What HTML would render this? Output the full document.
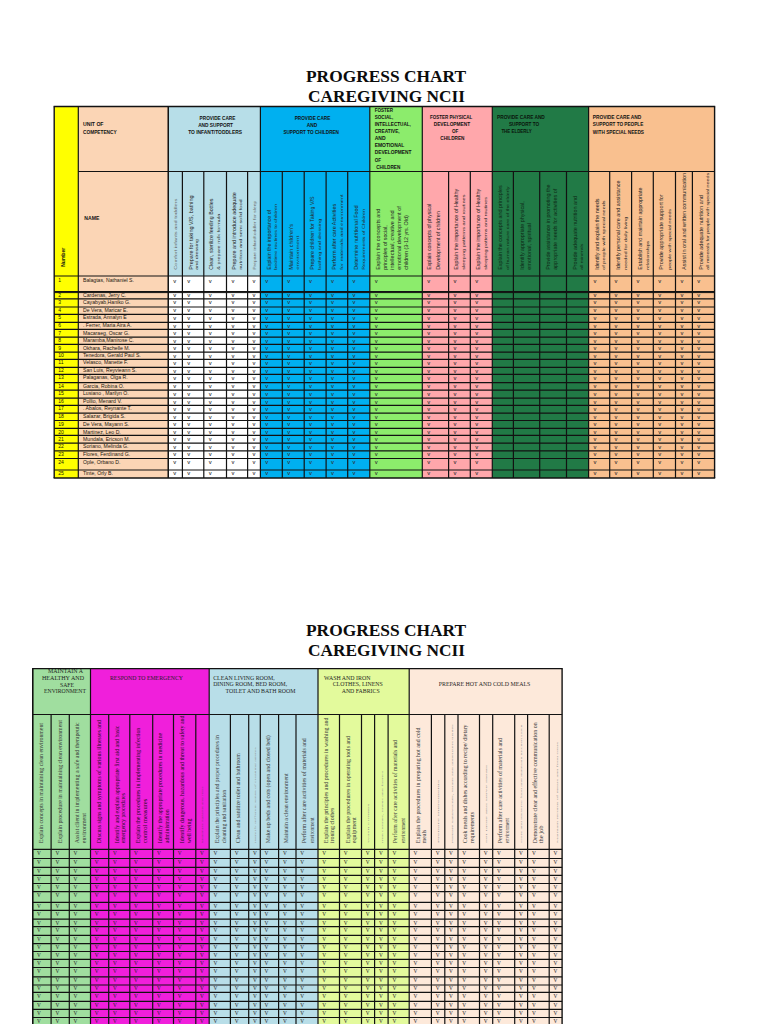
<!DOCTYPE html>
<html><head><meta charset="utf-8"><title>Progress Chart Caregiving NCII</title>
<style>
html,body{margin:0;padding:0;background:#fff;width:768px;height:1024px;overflow:hidden;}
svg{display:block;}
</style></head>
<body>
<svg width="768" height="1024" viewBox="0 0 768 1024">
<text x="386.00" y="81.90" font-family="Liberation Serif" font-size="17.4" font-weight="bold" fill="#0c0c0c" text-anchor="middle" textLength="160.0" lengthAdjust="spacingAndGlyphs">PROGRESS CHART</text>
<text x="386.50" y="101.70" font-family="Liberation Serif" font-size="17.4" font-weight="bold" fill="#0c0c0c" text-anchor="middle" textLength="157.0" lengthAdjust="spacingAndGlyphs">CAREGIVING NCII</text>
<rect x="54.20" y="106.50" width="24.10" height="371.50" fill="#FFFF00"/>
<rect x="78.30" y="106.50" width="90.00" height="371.50" fill="#FBD5B5"/>
<rect x="168.30" y="106.50" width="92.10" height="169.50" fill="#B7DEE8"/>
<rect x="168.30" y="276.00" width="92.10" height="202.00" fill="#FFFFFF"/>
<rect x="260.40" y="106.50" width="109.40" height="169.50" fill="#00B0F0"/>
<rect x="260.40" y="276.00" width="109.40" height="202.00" fill="#00B0F0"/>
<rect x="369.80" y="106.50" width="52.50" height="169.50" fill="#8CEC6C"/>
<rect x="369.80" y="276.00" width="52.50" height="202.00" fill="#8CEC6C"/>
<rect x="422.30" y="106.50" width="70.00" height="169.50" fill="#FFA7AB"/>
<rect x="422.30" y="276.00" width="70.00" height="202.00" fill="#FFA7AB"/>
<rect x="492.30" y="106.50" width="96.30" height="169.50" fill="#217A46"/>
<rect x="492.30" y="276.00" width="96.30" height="202.00" fill="#217A46"/>
<rect x="588.60" y="106.50" width="126.00" height="169.50" fill="#F9C08F"/>
<rect x="588.60" y="276.00" width="126.00" height="202.00" fill="#F9C08F"/>
<text x="83.00" y="126.40" font-family="Liberation Sans" font-size="5.1" font-weight="bold" fill="#121212" text-anchor="start" textLength="20.5" lengthAdjust="spacingAndGlyphs">UNIT OF</text>
<text x="83.00" y="133.50" font-family="Liberation Sans" font-size="5.1" font-weight="bold" fill="#121212" text-anchor="start" textLength="33.7" lengthAdjust="spacingAndGlyphs">COMPETENCY</text>
<text x="199.60" y="119.50" font-family="Liberation Sans" font-size="5.1" font-weight="bold" fill="#121212" text-anchor="start" textLength="35.8" lengthAdjust="spacingAndGlyphs">PROVIDE CARE</text>
<text x="198.15" y="126.60" font-family="Liberation Sans" font-size="5.1" font-weight="bold" fill="#121212" text-anchor="start" textLength="34.9" lengthAdjust="spacingAndGlyphs">AND SUPPORT</text>
<text x="188.20" y="133.80" font-family="Liberation Sans" font-size="5.1" font-weight="bold" fill="#121212" text-anchor="start" textLength="53.8" lengthAdjust="spacingAndGlyphs">TO INFANT/TODDLERS</text>
<text x="294.75" y="119.50" font-family="Liberation Sans" font-size="5.1" font-weight="bold" fill="#121212" text-anchor="start" textLength="35.5" lengthAdjust="spacingAndGlyphs">PROVIDE CARE</text>
<text x="306.75" y="126.60" font-family="Liberation Sans" font-size="5.1" font-weight="bold" fill="#121212" text-anchor="start" textLength="10.5" lengthAdjust="spacingAndGlyphs">AND</text>
<text x="283.40" y="133.80" font-family="Liberation Sans" font-size="5.1" font-weight="bold" fill="#121212" text-anchor="start" textLength="55.6" lengthAdjust="spacingAndGlyphs">SUPPORT TO CHILDREN</text>
<text x="374.70" y="112.30" font-family="Liberation Sans" font-size="5.1" font-weight="bold" fill="#121212" text-anchor="start" textLength="18.4" lengthAdjust="spacingAndGlyphs">FOSTER</text>
<text x="374.70" y="119.33" font-family="Liberation Sans" font-size="5.1" font-weight="bold" fill="#121212" text-anchor="start" textLength="18.7" lengthAdjust="spacingAndGlyphs">SOCIAL,</text>
<text x="374.70" y="126.36" font-family="Liberation Sans" font-size="5.1" font-weight="bold" fill="#121212" text-anchor="start" textLength="36.2" lengthAdjust="spacingAndGlyphs">INTELLECTUAL,</text>
<text x="374.70" y="133.39" font-family="Liberation Sans" font-size="5.1" font-weight="bold" fill="#121212" text-anchor="start" textLength="25.0" lengthAdjust="spacingAndGlyphs">CREATIVE,</text>
<text x="374.70" y="140.42" font-family="Liberation Sans" font-size="5.1" font-weight="bold" fill="#121212" text-anchor="start" textLength="10.9" lengthAdjust="spacingAndGlyphs">AND</text>
<text x="374.70" y="147.45" font-family="Liberation Sans" font-size="5.1" font-weight="bold" fill="#121212" text-anchor="start" textLength="29.7" lengthAdjust="spacingAndGlyphs">EMOTIONAL</text>
<text x="374.70" y="154.48" font-family="Liberation Sans" font-size="5.1" font-weight="bold" fill="#121212" text-anchor="start" textLength="36.7" lengthAdjust="spacingAndGlyphs">DEVELOPMENT</text>
<text x="374.70" y="161.51" font-family="Liberation Sans" font-size="5.1" font-weight="bold" fill="#121212" text-anchor="start" textLength="6.2" lengthAdjust="spacingAndGlyphs">OF</text>
<text x="376.20" y="168.54" font-family="Liberation Sans" font-size="5.1" font-weight="bold" fill="#121212" text-anchor="start" textLength="24.2" lengthAdjust="spacingAndGlyphs">CHILDREN</text>
<text x="430.10" y="119.30" font-family="Liberation Sans" font-size="5.1" font-weight="bold" fill="#121212" text-anchor="start" textLength="42.2" lengthAdjust="spacingAndGlyphs">FOSTER PHYSICAL</text>
<text x="433.75" y="126.30" font-family="Liberation Sans" font-size="5.1" font-weight="bold" fill="#121212" text-anchor="start" textLength="36.3" lengthAdjust="spacingAndGlyphs">DEVELOPMENT</text>
<text x="451.95" y="133.30" font-family="Liberation Sans" font-size="5.1" font-weight="bold" fill="#121212" text-anchor="start" textLength="6.3" lengthAdjust="spacingAndGlyphs">OF</text>
<text x="440.30" y="140.40" font-family="Liberation Sans" font-size="5.1" font-weight="bold" fill="#121212" text-anchor="start" textLength="24.2" lengthAdjust="spacingAndGlyphs">CHILDREN</text>
<text x="497.00" y="119.30" font-family="Liberation Sans" font-size="5.1" font-weight="bold" fill="#0a140c" text-anchor="start" textLength="47.8" lengthAdjust="spacingAndGlyphs">PROVIDE CARE AND</text>
<text x="508.90" y="126.30" font-family="Liberation Sans" font-size="5.1" font-weight="bold" fill="#0a140c" text-anchor="start" textLength="30.3" lengthAdjust="spacingAndGlyphs">SUPPORT TO</text>
<text x="501.40" y="133.30" font-family="Liberation Sans" font-size="5.1" font-weight="bold" fill="#0a140c" text-anchor="start" textLength="30.4" lengthAdjust="spacingAndGlyphs">THE ELDERLY</text>
<text x="592.80" y="119.30" font-family="Liberation Sans" font-size="5.1" font-weight="bold" fill="#121212" text-anchor="start" textLength="48.5" lengthAdjust="spacingAndGlyphs">PROVIDE CARE AND</text>
<text x="592.80" y="126.40" font-family="Liberation Sans" font-size="5.1" font-weight="bold" fill="#121212" text-anchor="start" textLength="50.5" lengthAdjust="spacingAndGlyphs">SUPPORT TO PEOPLE</text>
<text x="592.80" y="133.60" font-family="Liberation Sans" font-size="5.1" font-weight="bold" fill="#121212" text-anchor="start" textLength="51.2" lengthAdjust="spacingAndGlyphs">WITH SPECIAL NEEDS</text>
<text x="84.30" y="219.50" font-family="Liberation Sans" font-size="5.1" font-weight="bold" fill="#121212" text-anchor="start" textLength="15.0" lengthAdjust="spacingAndGlyphs">NAME</text>
<text transform="translate(65.00,266.80) rotate(-90)" font-family="Liberation Sans" font-size="5.1" font-weight="bold" fill="#121212" textLength="19.0" lengthAdjust="spacingAndGlyphs">Number</text>
<text transform="translate(177.01,269.80) rotate(-90)" font-family="Liberation Sans" font-size="3.6" fill="#666" textLength="71.1" lengthAdjust="spacingAndGlyphs">Comfort infants and toddlers</text>
<text transform="translate(192.51,269.80) rotate(-90)" font-family="Liberation Sans" font-size="5.4" fill="#262626" textLength="74.4" lengthAdjust="spacingAndGlyphs">Prepare for taking V/S, bathing</text>
<text transform="translate(198.13,269.80) rotate(-90)" font-family="Liberation Sans" font-size="4.4" fill="#262626" textLength="30.8" lengthAdjust="spacingAndGlyphs">and dressing</text>
<text transform="translate(213.41,269.80) rotate(-90)" font-family="Liberation Sans" font-size="5.4" fill="#262626" textLength="71.1" lengthAdjust="spacingAndGlyphs">Clean, sterilize feeding Bottles</text>
<text transform="translate(220.23,269.80) rotate(-90)" font-family="Liberation Sans" font-size="4.4" fill="#262626" textLength="56.1" lengthAdjust="spacingAndGlyphs">&amp; prepare milk formula</text>
<text transform="translate(235.51,269.80) rotate(-90)" font-family="Liberation Sans" font-size="5.4" fill="#262626" textLength="77.6" lengthAdjust="spacingAndGlyphs">Prepare and introduce adequate</text>
<text transform="translate(242.43,269.80) rotate(-90)" font-family="Liberation Sans" font-size="4.4" fill="#262626" textLength="70.5" lengthAdjust="spacingAndGlyphs">nutrition and semi solid food</text>
<text transform="translate(255.81,269.80) rotate(-90)" font-family="Liberation Sans" font-size="3.6" fill="#666" textLength="69.2" lengthAdjust="spacingAndGlyphs">Prepare infant/toddler for sleep</text>
<text transform="translate(270.61,269.80) rotate(-90)" font-family="Liberation Sans" font-size="5.4" fill="#262626" textLength="59.9" lengthAdjust="spacingAndGlyphs">Explain the importance of</text>
<text transform="translate(277.03,269.80) rotate(-90)" font-family="Liberation Sans" font-size="4.4" fill="#262626" textLength="65.9" lengthAdjust="spacingAndGlyphs">bedtime routines to children</text>
<text transform="translate(292.91,269.80) rotate(-90)" font-family="Liberation Sans" font-size="5.4" fill="#262626" textLength="45.8" lengthAdjust="spacingAndGlyphs">Maintain children&#x27;s</text>
<text transform="translate(299.23,269.80) rotate(-90)" font-family="Liberation Sans" font-size="4.4" fill="#262626" textLength="34.0" lengthAdjust="spacingAndGlyphs">environment</text>
<text transform="translate(314.41,269.80) rotate(-90)" font-family="Liberation Sans" font-size="5.4" fill="#262626" textLength="73.3" lengthAdjust="spacingAndGlyphs">Prepare children for Taking V/S</text>
<text transform="translate(320.83,269.80) rotate(-90)" font-family="Liberation Sans" font-size="4.4" fill="#262626" textLength="51.0" lengthAdjust="spacingAndGlyphs">bathing and dressing</text>
<text transform="translate(335.91,269.80) rotate(-90)" font-family="Liberation Sans" font-size="5.4" fill="#262626" textLength="65.9" lengthAdjust="spacingAndGlyphs">Perform after care Activities</text>
<text transform="translate(343.13,269.80) rotate(-90)" font-family="Liberation Sans" font-size="4.4" fill="#262626" textLength="75.5" lengthAdjust="spacingAndGlyphs">for materials and environment</text>
<text transform="translate(357.51,269.80) rotate(-90)" font-family="Liberation Sans" font-size="5.4" fill="#262626" textLength="64.4" lengthAdjust="spacingAndGlyphs">Determine nutritional Food</text>
<text transform="translate(364.63,269.80) rotate(-90)" font-family="Liberation Sans" font-size="4.4" fill="#262626" textLength="60.7" lengthAdjust="spacingAndGlyphs">Requirements of Children</text>
<text transform="translate(379.81,269.80) rotate(-90)" font-family="Liberation Sans" font-size="5.4" fill="#262626" textLength="61.1" lengthAdjust="spacingAndGlyphs">Explain the concepts  and</text>
<text transform="translate(387.01,269.80) rotate(-90)" font-family="Liberation Sans" font-size="5.4" fill="#262626" textLength="44.5" lengthAdjust="spacingAndGlyphs">principles of social,</text>
<text transform="translate(393.71,269.80) rotate(-90)" font-family="Liberation Sans" font-size="5.4" fill="#262626" textLength="59.5" lengthAdjust="spacingAndGlyphs">intellectual, creative and</text>
<text transform="translate(401.21,269.80) rotate(-90)" font-family="Liberation Sans" font-size="5.4" fill="#262626" textLength="63.6" lengthAdjust="spacingAndGlyphs">emotional development of</text>
<text transform="translate(408.21,269.80) rotate(-90)" font-family="Liberation Sans" font-size="5.4" fill="#262626" textLength="54.5" lengthAdjust="spacingAndGlyphs">children (3-12 yrs. Old)</text>
<text transform="translate(431.21,269.80) rotate(-90)" font-family="Liberation Sans" font-size="5.4" fill="#262626" textLength="66.1" lengthAdjust="spacingAndGlyphs">Explain concepts of physical</text>
<text transform="translate(439.51,269.80) rotate(-90)" font-family="Liberation Sans" font-size="5.4" fill="#262626" textLength="58.6" lengthAdjust="spacingAndGlyphs">Development of children</text>
<text transform="translate(457.81,269.80) rotate(-90)" font-family="Liberation Sans" font-size="5.4" fill="#262626" textLength="81.1" lengthAdjust="spacingAndGlyphs">Explain the importance of  Healthy</text>
<text transform="translate(465.03,269.80) rotate(-90)" font-family="Liberation Sans" font-size="4.4" fill="#262626" textLength="75.3" lengthAdjust="spacingAndGlyphs">sleeping patterns and routines</text>
<text transform="translate(479.51,269.80) rotate(-90)" font-family="Liberation Sans" font-size="5.4" fill="#262626" textLength="81.1" lengthAdjust="spacingAndGlyphs">Explain the importance of  Healthy</text>
<text transform="translate(486.73,269.80) rotate(-90)" font-family="Liberation Sans" font-size="4.4" fill="#262626" textLength="72.8" lengthAdjust="spacingAndGlyphs">sleeping patterns and routines</text>
<text transform="translate(502.11,269.80) rotate(-90)" font-family="Liberation Sans" font-size="5.4" fill="#0e2a17" textLength="84.5" lengthAdjust="spacingAndGlyphs">Explain the concepts and  principles</text>
<text transform="translate(508.53,269.80) rotate(-90)" font-family="Liberation Sans" font-size="4.4" fill="#0e2a17" textLength="83.2" lengthAdjust="spacingAndGlyphs">of human nature care of the elderly</text>
<text transform="translate(524.01,269.80) rotate(-90)" font-family="Liberation Sans" font-size="5.4" fill="#0e2a17" textLength="68.6" lengthAdjust="spacingAndGlyphs">Identify appropriate physical,</text>
<text transform="translate(531.31,269.80) rotate(-90)" font-family="Liberation Sans" font-size="5.4" fill="#0e2a17" textLength="46.7" lengthAdjust="spacingAndGlyphs">emotional,  spiritual</text>
<text transform="translate(549.91,269.80) rotate(-90)" font-family="Liberation Sans" font-size="5.4" fill="#0e2a17" textLength="85.2" lengthAdjust="spacingAndGlyphs">Provide assistance in promoting the</text>
<text transform="translate(557.21,269.80) rotate(-90)" font-family="Liberation Sans" font-size="5.4" fill="#0e2a17" textLength="81.2" lengthAdjust="spacingAndGlyphs">appropriate needs for activities of</text>
<text transform="translate(576.51,269.80) rotate(-90)" font-family="Liberation Sans" font-size="5.4" fill="#0e2a17" textLength="73.9" lengthAdjust="spacingAndGlyphs">Provide adequate  nutrition and</text>
<text transform="translate(582.83,269.80) rotate(-90)" font-family="Liberation Sans" font-size="4.4" fill="#0e2a17" textLength="26.1" lengthAdjust="spacingAndGlyphs">all minerals</text>
<text transform="translate(598.71,269.80) rotate(-90)" font-family="Liberation Sans" font-size="5.4" fill="#262626" textLength="71.2" lengthAdjust="spacingAndGlyphs">Identify and explain the needs</text>
<text transform="translate(605.23,269.80) rotate(-90)" font-family="Liberation Sans" font-size="4.4" fill="#262626" textLength="69.4" lengthAdjust="spacingAndGlyphs">of people with special needs</text>
<text transform="translate(620.21,269.80) rotate(-90)" font-family="Liberation Sans" font-size="5.4" fill="#262626" textLength="89.2" lengthAdjust="spacingAndGlyphs">Identify personal care and assistance</text>
<text transform="translate(626.73,269.80) rotate(-90)" font-family="Liberation Sans" font-size="4.4" fill="#262626" textLength="53.1" lengthAdjust="spacingAndGlyphs">needed for daily living</text>
<text transform="translate(641.61,269.80) rotate(-90)" font-family="Liberation Sans" font-size="5.4" fill="#262626" textLength="82.3" lengthAdjust="spacingAndGlyphs">Establish and maintain appropriate</text>
<text transform="translate(649.13,269.80) rotate(-90)" font-family="Liberation Sans" font-size="4.4" fill="#262626" textLength="29.0" lengthAdjust="spacingAndGlyphs">relationships</text>
<text transform="translate(663.11,269.80) rotate(-90)" font-family="Liberation Sans" font-size="5.4" fill="#262626" textLength="75.5" lengthAdjust="spacingAndGlyphs">Provide appropriate support for</text>
<text transform="translate(670.63,269.80) rotate(-90)" font-family="Liberation Sans" font-size="4.4" fill="#262626" textLength="60.8" lengthAdjust="spacingAndGlyphs">people with special needs</text>
<text transform="translate(685.51,269.80) rotate(-90)" font-family="Liberation Sans" font-size="5.4" fill="#262626" textLength="96.9" lengthAdjust="spacingAndGlyphs">Assist in oral and written communication</text>
<text transform="translate(702.71,269.80) rotate(-90)" font-family="Liberation Sans" font-size="5.4" fill="#262626" textLength="74.6" lengthAdjust="spacingAndGlyphs">Provide adequate nutrition and</text>
<text transform="translate(709.23,269.80) rotate(-90)" font-family="Liberation Sans" font-size="4.4" fill="#262626" textLength="96.9" lengthAdjust="spacingAndGlyphs">all minerals for people with special needs</text>
<text x="58.30" y="281.80" font-family="Liberation Sans" font-size="5.6" fill="#202000" text-anchor="start" textLength="2.8" lengthAdjust="spacingAndGlyphs">1</text>
<text x="83.00" y="281.80" font-family="Liberation Sans" font-size="5.6" fill="#24180f" text-anchor="start" textLength="51.0" lengthAdjust="spacingAndGlyphs">Balagtas, Nathaniel S.</text>
<g font-family="Liberation Sans" font-size="4.4" font-weight="bold" fill="#303030">
<text x="173.2" y="282.5">V</text>
<text x="187.3" y="282.5">V</text>
<text x="208.7" y="282.5">V</text>
<text x="231.4" y="282.5">V</text>
<text x="252.5" y="282.5">V</text>
<text x="265.3" y="282.5">V</text>
<text x="287.2" y="282.5">V</text>
<text x="309.1" y="282.5">V</text>
<text x="331.0" y="282.5">V</text>
<text x="352.6" y="282.5">V</text>
<text x="374.7" y="282.5">V</text>
<text x="427.2" y="282.5">V</text>
<text x="453.5" y="282.5">V</text>
<text x="475.2" y="282.5">V</text>
<text x="593.5" y="282.5">V</text>
<text x="614.6" y="282.5">V</text>
<text x="636.5" y="282.5">V</text>
<text x="658.2" y="282.5">V</text>
<text x="680.4" y="282.5">V</text>
<text x="697.3" y="282.5">V</text>
</g>
<text x="58.30" y="296.70" font-family="Liberation Sans" font-size="5.6" fill="#202000" text-anchor="start" textLength="2.8" lengthAdjust="spacingAndGlyphs">2</text>
<text x="83.00" y="296.70" font-family="Liberation Sans" font-size="5.6" fill="#24180f" text-anchor="start" textLength="43.2" lengthAdjust="spacingAndGlyphs">Cardenas, Jerry C.</text>
<g font-family="Liberation Sans" font-size="4.4" font-weight="bold" fill="#303030">
<text x="173.2" y="297.0">V</text>
<text x="187.3" y="297.0">V</text>
<text x="208.7" y="297.0">V</text>
<text x="231.4" y="297.0">V</text>
<text x="252.5" y="297.0">V</text>
<text x="265.3" y="297.0">V</text>
<text x="287.2" y="297.0">V</text>
<text x="309.1" y="297.0">V</text>
<text x="331.0" y="297.0">V</text>
<text x="352.6" y="297.0">V</text>
<text x="374.7" y="297.0">V</text>
<text x="427.2" y="297.0">V</text>
<text x="453.5" y="297.0">V</text>
<text x="475.2" y="297.0">V</text>
<text x="593.5" y="297.0">V</text>
<text x="614.6" y="297.0">V</text>
<text x="636.5" y="297.0">V</text>
<text x="658.2" y="297.0">V</text>
<text x="680.4" y="297.0">V</text>
<text x="697.3" y="297.0">V</text>
</g>
<text x="58.30" y="304.00" font-family="Liberation Sans" font-size="5.6" fill="#202000" text-anchor="start" textLength="2.8" lengthAdjust="spacingAndGlyphs">3</text>
<text x="83.00" y="304.00" font-family="Liberation Sans" font-size="5.6" fill="#24180f" text-anchor="start" textLength="47.5" lengthAdjust="spacingAndGlyphs">Cayabyab,Haniko G.</text>
<g font-family="Liberation Sans" font-size="4.4" font-weight="bold" fill="#303030">
<text x="173.2" y="304.3">V</text>
<text x="187.3" y="304.3">V</text>
<text x="208.7" y="304.3">V</text>
<text x="231.4" y="304.3">V</text>
<text x="252.5" y="304.3">V</text>
<text x="265.3" y="304.3">V</text>
<text x="287.2" y="304.3">V</text>
<text x="309.1" y="304.3">V</text>
<text x="331.0" y="304.3">V</text>
<text x="352.6" y="304.3">V</text>
<text x="374.7" y="304.3">V</text>
<text x="427.2" y="304.3">V</text>
<text x="453.5" y="304.3">V</text>
<text x="475.2" y="304.3">V</text>
<text x="593.5" y="304.3">V</text>
<text x="614.6" y="304.3">V</text>
<text x="636.5" y="304.3">V</text>
<text x="658.2" y="304.3">V</text>
<text x="680.4" y="304.3">V</text>
<text x="697.3" y="304.3">V</text>
</g>
<text x="58.30" y="312.10" font-family="Liberation Sans" font-size="5.6" fill="#202000" text-anchor="start" textLength="2.8" lengthAdjust="spacingAndGlyphs">4</text>
<text x="83.00" y="312.10" font-family="Liberation Sans" font-size="5.6" fill="#24180f" text-anchor="start" textLength="44.9" lengthAdjust="spacingAndGlyphs">De Vera, Maricar E.</text>
<g font-family="Liberation Sans" font-size="4.4" font-weight="bold" fill="#303030">
<text x="173.2" y="312.4">V</text>
<text x="187.3" y="312.4">V</text>
<text x="208.7" y="312.4">V</text>
<text x="231.4" y="312.4">V</text>
<text x="252.5" y="312.4">V</text>
<text x="265.3" y="312.4">V</text>
<text x="287.2" y="312.4">V</text>
<text x="309.1" y="312.4">V</text>
<text x="331.0" y="312.4">V</text>
<text x="352.6" y="312.4">V</text>
<text x="374.7" y="312.4">V</text>
<text x="427.2" y="312.4">V</text>
<text x="453.5" y="312.4">V</text>
<text x="475.2" y="312.4">V</text>
<text x="593.5" y="312.4">V</text>
<text x="614.6" y="312.4">V</text>
<text x="636.5" y="312.4">V</text>
<text x="658.2" y="312.4">V</text>
<text x="680.4" y="312.4">V</text>
<text x="697.3" y="312.4">V</text>
</g>
<text x="58.30" y="319.40" font-family="Liberation Sans" font-size="5.6" fill="#202000" text-anchor="start" textLength="2.8" lengthAdjust="spacingAndGlyphs">5</text>
<text x="83.00" y="319.40" font-family="Liberation Sans" font-size="5.6" fill="#24180f" text-anchor="start" textLength="43.8" lengthAdjust="spacingAndGlyphs">Estrada, Annalyn E</text>
<g font-family="Liberation Sans" font-size="4.4" font-weight="bold" fill="#303030">
<text x="173.2" y="319.7">V</text>
<text x="187.3" y="319.7">V</text>
<text x="208.7" y="319.7">V</text>
<text x="231.4" y="319.7">V</text>
<text x="252.5" y="319.7">V</text>
<text x="265.3" y="319.7">V</text>
<text x="287.2" y="319.7">V</text>
<text x="309.1" y="319.7">V</text>
<text x="331.0" y="319.7">V</text>
<text x="352.6" y="319.7">V</text>
<text x="374.7" y="319.7">V</text>
<text x="427.2" y="319.7">V</text>
<text x="453.5" y="319.7">V</text>
<text x="475.2" y="319.7">V</text>
<text x="593.5" y="319.7">V</text>
<text x="614.6" y="319.7">V</text>
<text x="636.5" y="319.7">V</text>
<text x="658.2" y="319.7">V</text>
<text x="680.4" y="319.7">V</text>
<text x="697.3" y="319.7">V</text>
</g>
<text x="58.30" y="327.40" font-family="Liberation Sans" font-size="5.6" fill="#202000" text-anchor="start" textLength="2.8" lengthAdjust="spacingAndGlyphs">6</text>
<text x="83.00" y="327.40" font-family="Liberation Sans" font-size="5.6" fill="#24180f" text-anchor="start" textLength="48.7" lengthAdjust="spacingAndGlyphs">. Ferrer, Maria Aira A.</text>
<g font-family="Liberation Sans" font-size="4.4" font-weight="bold" fill="#303030">
<text x="173.2" y="327.7">V</text>
<text x="187.3" y="327.7">V</text>
<text x="208.7" y="327.7">V</text>
<text x="231.4" y="327.7">V</text>
<text x="252.5" y="327.7">V</text>
<text x="265.3" y="327.7">V</text>
<text x="287.2" y="327.7">V</text>
<text x="309.1" y="327.7">V</text>
<text x="331.0" y="327.7">V</text>
<text x="352.6" y="327.7">V</text>
<text x="374.7" y="327.7">V</text>
<text x="427.2" y="327.7">V</text>
<text x="453.5" y="327.7">V</text>
<text x="475.2" y="327.7">V</text>
<text x="593.5" y="327.7">V</text>
<text x="614.6" y="327.7">V</text>
<text x="636.5" y="327.7">V</text>
<text x="658.2" y="327.7">V</text>
<text x="680.4" y="327.7">V</text>
<text x="697.3" y="327.7">V</text>
</g>
<text x="58.30" y="334.50" font-family="Liberation Sans" font-size="5.6" fill="#202000" text-anchor="start" textLength="2.8" lengthAdjust="spacingAndGlyphs">7</text>
<text x="83.00" y="334.50" font-family="Liberation Sans" font-size="5.6" fill="#24180f" text-anchor="start" textLength="46.4" lengthAdjust="spacingAndGlyphs">Macaraeg, Oscar G.</text>
<g font-family="Liberation Sans" font-size="4.4" font-weight="bold" fill="#303030">
<text x="173.2" y="334.8">V</text>
<text x="187.3" y="334.8">V</text>
<text x="208.7" y="334.8">V</text>
<text x="231.4" y="334.8">V</text>
<text x="252.5" y="334.8">V</text>
<text x="265.3" y="334.8">V</text>
<text x="287.2" y="334.8">V</text>
<text x="309.1" y="334.8">V</text>
<text x="331.0" y="334.8">V</text>
<text x="352.6" y="334.8">V</text>
<text x="374.7" y="334.8">V</text>
<text x="427.2" y="334.8">V</text>
<text x="453.5" y="334.8">V</text>
<text x="475.2" y="334.8">V</text>
<text x="593.5" y="334.8">V</text>
<text x="614.6" y="334.8">V</text>
<text x="636.5" y="334.8">V</text>
<text x="658.2" y="334.8">V</text>
<text x="680.4" y="334.8">V</text>
<text x="697.3" y="334.8">V</text>
</g>
<text x="58.30" y="342.30" font-family="Liberation Sans" font-size="5.6" fill="#202000" text-anchor="start" textLength="2.8" lengthAdjust="spacingAndGlyphs">8</text>
<text x="83.00" y="342.30" font-family="Liberation Sans" font-size="5.6" fill="#24180f" text-anchor="start" textLength="51.0" lengthAdjust="spacingAndGlyphs">Maramba,Manirose C.</text>
<g font-family="Liberation Sans" font-size="4.4" font-weight="bold" fill="#303030">
<text x="173.2" y="342.6">V</text>
<text x="187.3" y="342.6">V</text>
<text x="208.7" y="342.6">V</text>
<text x="231.4" y="342.6">V</text>
<text x="252.5" y="342.6">V</text>
<text x="265.3" y="342.6">V</text>
<text x="287.2" y="342.6">V</text>
<text x="309.1" y="342.6">V</text>
<text x="331.0" y="342.6">V</text>
<text x="352.6" y="342.6">V</text>
<text x="374.7" y="342.6">V</text>
<text x="427.2" y="342.6">V</text>
<text x="453.5" y="342.6">V</text>
<text x="475.2" y="342.6">V</text>
<text x="593.5" y="342.6">V</text>
<text x="614.6" y="342.6">V</text>
<text x="636.5" y="342.6">V</text>
<text x="658.2" y="342.6">V</text>
<text x="680.4" y="342.6">V</text>
<text x="697.3" y="342.6">V</text>
</g>
<text x="58.30" y="349.50" font-family="Liberation Sans" font-size="5.6" fill="#202000" text-anchor="start" textLength="2.8" lengthAdjust="spacingAndGlyphs">9</text>
<text x="83.00" y="349.50" font-family="Liberation Sans" font-size="5.6" fill="#24180f" text-anchor="start" textLength="47.0" lengthAdjust="spacingAndGlyphs">Okhara, Rachelle M.</text>
<g font-family="Liberation Sans" font-size="4.4" font-weight="bold" fill="#303030">
<text x="173.2" y="349.8">V</text>
<text x="187.3" y="349.8">V</text>
<text x="208.7" y="349.8">V</text>
<text x="231.4" y="349.8">V</text>
<text x="252.5" y="349.8">V</text>
<text x="265.3" y="349.8">V</text>
<text x="287.2" y="349.8">V</text>
<text x="309.1" y="349.8">V</text>
<text x="331.0" y="349.8">V</text>
<text x="352.6" y="349.8">V</text>
<text x="374.7" y="349.8">V</text>
<text x="427.2" y="349.8">V</text>
<text x="453.5" y="349.8">V</text>
<text x="475.2" y="349.8">V</text>
<text x="593.5" y="349.8">V</text>
<text x="614.6" y="349.8">V</text>
<text x="636.5" y="349.8">V</text>
<text x="658.2" y="349.8">V</text>
<text x="680.4" y="349.8">V</text>
<text x="697.3" y="349.8">V</text>
</g>
<text x="58.30" y="357.30" font-family="Liberation Sans" font-size="5.6" fill="#202000" text-anchor="start" textLength="5.6" lengthAdjust="spacingAndGlyphs">10</text>
<text x="83.00" y="357.30" font-family="Liberation Sans" font-size="5.6" fill="#24180f" text-anchor="start" textLength="57.8" lengthAdjust="spacingAndGlyphs">Tenedora, Gerald Paul S.</text>
<g font-family="Liberation Sans" font-size="4.4" font-weight="bold" fill="#303030">
<text x="173.2" y="357.6">V</text>
<text x="187.3" y="357.6">V</text>
<text x="208.7" y="357.6">V</text>
<text x="231.4" y="357.6">V</text>
<text x="252.5" y="357.6">V</text>
<text x="265.3" y="357.6">V</text>
<text x="287.2" y="357.6">V</text>
<text x="309.1" y="357.6">V</text>
<text x="331.0" y="357.6">V</text>
<text x="352.6" y="357.6">V</text>
<text x="374.7" y="357.6">V</text>
<text x="427.2" y="357.6">V</text>
<text x="453.5" y="357.6">V</text>
<text x="475.2" y="357.6">V</text>
<text x="593.5" y="357.6">V</text>
<text x="614.6" y="357.6">V</text>
<text x="636.5" y="357.6">V</text>
<text x="658.2" y="357.6">V</text>
<text x="680.4" y="357.6">V</text>
<text x="697.3" y="357.6">V</text>
</g>
<text x="58.30" y="364.40" font-family="Liberation Sans" font-size="5.6" fill="#202000" text-anchor="start" textLength="5.2" lengthAdjust="spacingAndGlyphs">11</text>
<text x="83.00" y="364.40" font-family="Liberation Sans" font-size="5.6" fill="#24180f" text-anchor="start" textLength="45.0" lengthAdjust="spacingAndGlyphs">Velasco, Manette F.</text>
<g font-family="Liberation Sans" font-size="4.4" font-weight="bold" fill="#303030">
<text x="173.2" y="364.7">V</text>
<text x="187.3" y="364.7">V</text>
<text x="208.7" y="364.7">V</text>
<text x="231.4" y="364.7">V</text>
<text x="252.5" y="364.7">V</text>
<text x="265.3" y="364.7">V</text>
<text x="287.2" y="364.7">V</text>
<text x="309.1" y="364.7">V</text>
<text x="331.0" y="364.7">V</text>
<text x="352.6" y="364.7">V</text>
<text x="374.7" y="364.7">V</text>
<text x="427.2" y="364.7">V</text>
<text x="453.5" y="364.7">V</text>
<text x="475.2" y="364.7">V</text>
<text x="593.5" y="364.7">V</text>
<text x="614.6" y="364.7">V</text>
<text x="636.5" y="364.7">V</text>
<text x="658.2" y="364.7">V</text>
<text x="680.4" y="364.7">V</text>
<text x="697.3" y="364.7">V</text>
</g>
<text x="58.30" y="372.40" font-family="Liberation Sans" font-size="5.6" fill="#202000" text-anchor="start" textLength="5.6" lengthAdjust="spacingAndGlyphs">12</text>
<text x="83.00" y="372.40" font-family="Liberation Sans" font-size="5.6" fill="#24180f" text-anchor="start" textLength="53.6" lengthAdjust="spacingAndGlyphs">San Luis, Reyvieann S.</text>
<g font-family="Liberation Sans" font-size="4.4" font-weight="bold" fill="#303030">
<text x="173.2" y="372.7">V</text>
<text x="187.3" y="372.7">V</text>
<text x="208.7" y="372.7">V</text>
<text x="231.4" y="372.7">V</text>
<text x="252.5" y="372.7">V</text>
<text x="265.3" y="372.7">V</text>
<text x="287.2" y="372.7">V</text>
<text x="309.1" y="372.7">V</text>
<text x="331.0" y="372.7">V</text>
<text x="352.6" y="372.7">V</text>
<text x="374.7" y="372.7">V</text>
<text x="427.2" y="372.7">V</text>
<text x="453.5" y="372.7">V</text>
<text x="475.2" y="372.7">V</text>
<text x="593.5" y="372.7">V</text>
<text x="614.6" y="372.7">V</text>
<text x="636.5" y="372.7">V</text>
<text x="658.2" y="372.7">V</text>
<text x="680.4" y="372.7">V</text>
<text x="697.3" y="372.7">V</text>
</g>
<text x="58.30" y="379.40" font-family="Liberation Sans" font-size="5.6" fill="#202000" text-anchor="start" textLength="5.6" lengthAdjust="spacingAndGlyphs">13</text>
<text x="83.00" y="379.40" font-family="Liberation Sans" font-size="5.6" fill="#24180f" text-anchor="start" textLength="44.7" lengthAdjust="spacingAndGlyphs">Palaganas, Olga R.</text>
<g font-family="Liberation Sans" font-size="4.4" font-weight="bold" fill="#303030">
<text x="173.2" y="379.7">V</text>
<text x="187.3" y="379.7">V</text>
<text x="208.7" y="379.7">V</text>
<text x="231.4" y="379.7">V</text>
<text x="252.5" y="379.7">V</text>
<text x="265.3" y="379.7">V</text>
<text x="287.2" y="379.7">V</text>
<text x="309.1" y="379.7">V</text>
<text x="331.0" y="379.7">V</text>
<text x="352.6" y="379.7">V</text>
<text x="374.7" y="379.7">V</text>
<text x="427.2" y="379.7">V</text>
<text x="453.5" y="379.7">V</text>
<text x="475.2" y="379.7">V</text>
<text x="593.5" y="379.7">V</text>
<text x="614.6" y="379.7">V</text>
<text x="636.5" y="379.7">V</text>
<text x="658.2" y="379.7">V</text>
<text x="680.4" y="379.7">V</text>
<text x="697.3" y="379.7">V</text>
</g>
<text x="58.30" y="387.80" font-family="Liberation Sans" font-size="5.6" fill="#202000" text-anchor="start" textLength="5.6" lengthAdjust="spacingAndGlyphs">14</text>
<text x="83.00" y="387.80" font-family="Liberation Sans" font-size="5.6" fill="#24180f" text-anchor="start" textLength="41.2" lengthAdjust="spacingAndGlyphs">Garcia, Robina O.</text>
<g font-family="Liberation Sans" font-size="4.4" font-weight="bold" fill="#303030">
<text x="173.2" y="388.1">V</text>
<text x="187.3" y="388.1">V</text>
<text x="208.7" y="388.1">V</text>
<text x="231.4" y="388.1">V</text>
<text x="252.5" y="388.1">V</text>
<text x="265.3" y="388.1">V</text>
<text x="287.2" y="388.1">V</text>
<text x="309.1" y="388.1">V</text>
<text x="331.0" y="388.1">V</text>
<text x="352.6" y="388.1">V</text>
<text x="374.7" y="388.1">V</text>
<text x="427.2" y="388.1">V</text>
<text x="453.5" y="388.1">V</text>
<text x="475.2" y="388.1">V</text>
<text x="593.5" y="388.1">V</text>
<text x="614.6" y="388.1">V</text>
<text x="636.5" y="388.1">V</text>
<text x="658.2" y="388.1">V</text>
<text x="680.4" y="388.1">V</text>
<text x="697.3" y="388.1">V</text>
</g>
<text x="58.30" y="395.20" font-family="Liberation Sans" font-size="5.6" fill="#202000" text-anchor="start" textLength="5.6" lengthAdjust="spacingAndGlyphs">15</text>
<text x="83.00" y="395.20" font-family="Liberation Sans" font-size="5.6" fill="#24180f" text-anchor="start" textLength="45.8" lengthAdjust="spacingAndGlyphs">Lusiano , Marilyn O.</text>
<g font-family="Liberation Sans" font-size="4.4" font-weight="bold" fill="#303030">
<text x="173.2" y="395.5">V</text>
<text x="187.3" y="395.5">V</text>
<text x="208.7" y="395.5">V</text>
<text x="231.4" y="395.5">V</text>
<text x="252.5" y="395.5">V</text>
<text x="265.3" y="395.5">V</text>
<text x="287.2" y="395.5">V</text>
<text x="309.1" y="395.5">V</text>
<text x="331.0" y="395.5">V</text>
<text x="352.6" y="395.5">V</text>
<text x="374.7" y="395.5">V</text>
<text x="427.2" y="395.5">V</text>
<text x="453.5" y="395.5">V</text>
<text x="475.2" y="395.5">V</text>
<text x="593.5" y="395.5">V</text>
<text x="614.6" y="395.5">V</text>
<text x="636.5" y="395.5">V</text>
<text x="658.2" y="395.5">V</text>
<text x="680.4" y="395.5">V</text>
<text x="697.3" y="395.5">V</text>
</g>
<text x="58.30" y="403.20" font-family="Liberation Sans" font-size="5.6" fill="#202000" text-anchor="start" textLength="5.6" lengthAdjust="spacingAndGlyphs">16</text>
<text x="83.00" y="403.20" font-family="Liberation Sans" font-size="5.6" fill="#24180f" text-anchor="start" textLength="38.8" lengthAdjust="spacingAndGlyphs">Pollio, Menard V.</text>
<g font-family="Liberation Sans" font-size="4.4" font-weight="bold" fill="#303030">
<text x="173.2" y="403.5">V</text>
<text x="187.3" y="403.5">V</text>
<text x="208.7" y="403.5">V</text>
<text x="231.4" y="403.5">V</text>
<text x="252.5" y="403.5">V</text>
<text x="265.3" y="403.5">V</text>
<text x="287.2" y="403.5">V</text>
<text x="309.1" y="403.5">V</text>
<text x="331.0" y="403.5">V</text>
<text x="352.6" y="403.5">V</text>
<text x="374.7" y="403.5">V</text>
<text x="427.2" y="403.5">V</text>
<text x="453.5" y="403.5">V</text>
<text x="475.2" y="403.5">V</text>
<text x="593.5" y="403.5">V</text>
<text x="614.6" y="403.5">V</text>
<text x="636.5" y="403.5">V</text>
<text x="658.2" y="403.5">V</text>
<text x="680.4" y="403.5">V</text>
<text x="697.3" y="403.5">V</text>
</g>
<text x="58.30" y="410.40" font-family="Liberation Sans" font-size="5.6" fill="#202000" text-anchor="start" textLength="5.6" lengthAdjust="spacingAndGlyphs">17</text>
<text x="83.00" y="410.40" font-family="Liberation Sans" font-size="5.6" fill="#24180f" text-anchor="start" textLength="48.6" lengthAdjust="spacingAndGlyphs">. Abalos, Reynante T.</text>
<g font-family="Liberation Sans" font-size="4.4" font-weight="bold" fill="#303030">
<text x="173.2" y="410.7">V</text>
<text x="187.3" y="410.7">V</text>
<text x="208.7" y="410.7">V</text>
<text x="231.4" y="410.7">V</text>
<text x="252.5" y="410.7">V</text>
<text x="265.3" y="410.7">V</text>
<text x="287.2" y="410.7">V</text>
<text x="309.1" y="410.7">V</text>
<text x="331.0" y="410.7">V</text>
<text x="352.6" y="410.7">V</text>
<text x="374.7" y="410.7">V</text>
<text x="427.2" y="410.7">V</text>
<text x="453.5" y="410.7">V</text>
<text x="475.2" y="410.7">V</text>
<text x="593.5" y="410.7">V</text>
<text x="614.6" y="410.7">V</text>
<text x="636.5" y="410.7">V</text>
<text x="658.2" y="410.7">V</text>
<text x="680.4" y="410.7">V</text>
<text x="697.3" y="410.7">V</text>
</g>
<text x="58.30" y="418.30" font-family="Liberation Sans" font-size="5.6" fill="#202000" text-anchor="start" textLength="5.6" lengthAdjust="spacingAndGlyphs">18</text>
<text x="83.00" y="418.30" font-family="Liberation Sans" font-size="5.6" fill="#24180f" text-anchor="start" textLength="42.4" lengthAdjust="spacingAndGlyphs">Salazar, Brigida S.</text>
<g font-family="Liberation Sans" font-size="4.4" font-weight="bold" fill="#303030">
<text x="173.2" y="418.6">V</text>
<text x="187.3" y="418.6">V</text>
<text x="208.7" y="418.6">V</text>
<text x="231.4" y="418.6">V</text>
<text x="252.5" y="418.6">V</text>
<text x="265.3" y="418.6">V</text>
<text x="287.2" y="418.6">V</text>
<text x="309.1" y="418.6">V</text>
<text x="331.0" y="418.6">V</text>
<text x="352.6" y="418.6">V</text>
<text x="374.7" y="418.6">V</text>
<text x="427.2" y="418.6">V</text>
<text x="453.5" y="418.6">V</text>
<text x="475.2" y="418.6">V</text>
<text x="593.5" y="418.6">V</text>
<text x="614.6" y="418.6">V</text>
<text x="636.5" y="418.6">V</text>
<text x="658.2" y="418.6">V</text>
<text x="680.4" y="418.6">V</text>
<text x="697.3" y="418.6">V</text>
</g>
<text x="58.30" y="425.60" font-family="Liberation Sans" font-size="5.6" fill="#202000" text-anchor="start" textLength="5.6" lengthAdjust="spacingAndGlyphs">19</text>
<text x="83.00" y="425.60" font-family="Liberation Sans" font-size="5.6" fill="#24180f" text-anchor="start" textLength="46.1" lengthAdjust="spacingAndGlyphs">De Vera, Mayann S.</text>
<g font-family="Liberation Sans" font-size="4.4" font-weight="bold" fill="#303030">
<text x="173.2" y="425.9">V</text>
<text x="187.3" y="425.9">V</text>
<text x="208.7" y="425.9">V</text>
<text x="231.4" y="425.9">V</text>
<text x="252.5" y="425.9">V</text>
<text x="265.3" y="425.9">V</text>
<text x="287.2" y="425.9">V</text>
<text x="309.1" y="425.9">V</text>
<text x="331.0" y="425.9">V</text>
<text x="352.6" y="425.9">V</text>
<text x="374.7" y="425.9">V</text>
<text x="427.2" y="425.9">V</text>
<text x="453.5" y="425.9">V</text>
<text x="475.2" y="425.9">V</text>
<text x="593.5" y="425.9">V</text>
<text x="614.6" y="425.9">V</text>
<text x="636.5" y="425.9">V</text>
<text x="658.2" y="425.9">V</text>
<text x="680.4" y="425.9">V</text>
<text x="697.3" y="425.9">V</text>
</g>
<text x="58.30" y="433.50" font-family="Liberation Sans" font-size="5.6" fill="#202000" text-anchor="start" textLength="5.6" lengthAdjust="spacingAndGlyphs">20</text>
<text x="83.00" y="433.50" font-family="Liberation Sans" font-size="5.6" fill="#24180f" text-anchor="start" textLength="37.8" lengthAdjust="spacingAndGlyphs">Martinez, Leo D.</text>
<g font-family="Liberation Sans" font-size="4.4" font-weight="bold" fill="#303030">
<text x="173.2" y="433.8">V</text>
<text x="187.3" y="433.8">V</text>
<text x="208.7" y="433.8">V</text>
<text x="231.4" y="433.8">V</text>
<text x="252.5" y="433.8">V</text>
<text x="265.3" y="433.8">V</text>
<text x="287.2" y="433.8">V</text>
<text x="309.1" y="433.8">V</text>
<text x="331.0" y="433.8">V</text>
<text x="352.6" y="433.8">V</text>
<text x="374.7" y="433.8">V</text>
<text x="427.2" y="433.8">V</text>
<text x="453.5" y="433.8">V</text>
<text x="475.2" y="433.8">V</text>
<text x="593.5" y="433.8">V</text>
<text x="614.6" y="433.8">V</text>
<text x="636.5" y="433.8">V</text>
<text x="658.2" y="433.8">V</text>
<text x="680.4" y="433.8">V</text>
<text x="697.3" y="433.8">V</text>
</g>
<text x="58.30" y="440.50" font-family="Liberation Sans" font-size="5.6" fill="#202000" text-anchor="start" textLength="5.6" lengthAdjust="spacingAndGlyphs">21</text>
<text x="83.00" y="440.50" font-family="Liberation Sans" font-size="5.6" fill="#24180f" text-anchor="start" textLength="47.0" lengthAdjust="spacingAndGlyphs">Mundala, Ericson M.</text>
<g font-family="Liberation Sans" font-size="4.4" font-weight="bold" fill="#303030">
<text x="173.2" y="440.8">V</text>
<text x="187.3" y="440.8">V</text>
<text x="208.7" y="440.8">V</text>
<text x="231.4" y="440.8">V</text>
<text x="252.5" y="440.8">V</text>
<text x="265.3" y="440.8">V</text>
<text x="287.2" y="440.8">V</text>
<text x="309.1" y="440.8">V</text>
<text x="331.0" y="440.8">V</text>
<text x="352.6" y="440.8">V</text>
<text x="374.7" y="440.8">V</text>
<text x="427.2" y="440.8">V</text>
<text x="453.5" y="440.8">V</text>
<text x="475.2" y="440.8">V</text>
<text x="593.5" y="440.8">V</text>
<text x="614.6" y="440.8">V</text>
<text x="636.5" y="440.8">V</text>
<text x="658.2" y="440.8">V</text>
<text x="680.4" y="440.8">V</text>
<text x="697.3" y="440.8">V</text>
</g>
<text x="58.30" y="448.30" font-family="Liberation Sans" font-size="5.6" fill="#202000" text-anchor="start" textLength="5.6" lengthAdjust="spacingAndGlyphs">22</text>
<text x="83.00" y="448.30" font-family="Liberation Sans" font-size="5.6" fill="#24180f" text-anchor="start" textLength="45.5" lengthAdjust="spacingAndGlyphs">Soriano, Melinda G.</text>
<g font-family="Liberation Sans" font-size="4.4" font-weight="bold" fill="#303030">
<text x="173.2" y="448.6">V</text>
<text x="187.3" y="448.6">V</text>
<text x="208.7" y="448.6">V</text>
<text x="231.4" y="448.6">V</text>
<text x="252.5" y="448.6">V</text>
<text x="265.3" y="448.6">V</text>
<text x="287.2" y="448.6">V</text>
<text x="309.1" y="448.6">V</text>
<text x="331.0" y="448.6">V</text>
<text x="352.6" y="448.6">V</text>
<text x="374.7" y="448.6">V</text>
<text x="427.2" y="448.6">V</text>
<text x="453.5" y="448.6">V</text>
<text x="475.2" y="448.6">V</text>
<text x="593.5" y="448.6">V</text>
<text x="614.6" y="448.6">V</text>
<text x="636.5" y="448.6">V</text>
<text x="658.2" y="448.6">V</text>
<text x="680.4" y="448.6">V</text>
<text x="697.3" y="448.6">V</text>
</g>
<text x="58.30" y="456.00" font-family="Liberation Sans" font-size="5.6" fill="#202000" text-anchor="start" textLength="5.6" lengthAdjust="spacingAndGlyphs">23</text>
<text x="83.00" y="456.00" font-family="Liberation Sans" font-size="5.6" fill="#24180f" text-anchor="start" textLength="47.2" lengthAdjust="spacingAndGlyphs">Flores, Ferdinand G.</text>
<g font-family="Liberation Sans" font-size="4.4" font-weight="bold" fill="#303030">
<text x="173.2" y="456.3">V</text>
<text x="187.3" y="456.3">V</text>
<text x="208.7" y="456.3">V</text>
<text x="231.4" y="456.3">V</text>
<text x="252.5" y="456.3">V</text>
<text x="265.3" y="456.3">V</text>
<text x="287.2" y="456.3">V</text>
<text x="309.1" y="456.3">V</text>
<text x="331.0" y="456.3">V</text>
<text x="352.6" y="456.3">V</text>
<text x="374.7" y="456.3">V</text>
<text x="427.2" y="456.3">V</text>
<text x="453.5" y="456.3">V</text>
<text x="475.2" y="456.3">V</text>
<text x="593.5" y="456.3">V</text>
<text x="614.6" y="456.3">V</text>
<text x="636.5" y="456.3">V</text>
<text x="658.2" y="456.3">V</text>
<text x="680.4" y="456.3">V</text>
<text x="697.3" y="456.3">V</text>
</g>
<text x="58.30" y="463.60" font-family="Liberation Sans" font-size="5.6" fill="#202000" text-anchor="start" textLength="5.6" lengthAdjust="spacingAndGlyphs">24</text>
<text x="83.00" y="463.60" font-family="Liberation Sans" font-size="5.6" fill="#24180f" text-anchor="start" textLength="37.5" lengthAdjust="spacingAndGlyphs">Ople, Orbano D.</text>
<g font-family="Liberation Sans" font-size="4.4" font-weight="bold" fill="#303030">
<text x="173.2" y="463.9">V</text>
<text x="187.3" y="463.9">V</text>
<text x="208.7" y="463.9">V</text>
<text x="231.4" y="463.9">V</text>
<text x="252.5" y="463.9">V</text>
<text x="265.3" y="463.9">V</text>
<text x="287.2" y="463.9">V</text>
<text x="309.1" y="463.9">V</text>
<text x="331.0" y="463.9">V</text>
<text x="352.6" y="463.9">V</text>
<text x="374.7" y="463.9">V</text>
<text x="427.2" y="463.9">V</text>
<text x="453.5" y="463.9">V</text>
<text x="475.2" y="463.9">V</text>
<text x="593.5" y="463.9">V</text>
<text x="614.6" y="463.9">V</text>
<text x="636.5" y="463.9">V</text>
<text x="658.2" y="463.9">V</text>
<text x="680.4" y="463.9">V</text>
<text x="697.3" y="463.9">V</text>
</g>
<text x="58.30" y="475.10" font-family="Liberation Sans" font-size="5.6" fill="#202000" text-anchor="start" textLength="5.6" lengthAdjust="spacingAndGlyphs">25</text>
<text x="83.00" y="475.10" font-family="Liberation Sans" font-size="5.6" fill="#24180f" text-anchor="start" textLength="29.9" lengthAdjust="spacingAndGlyphs">Tinte, Orly B.</text>
<g font-family="Liberation Sans" font-size="4.4" font-weight="bold" fill="#303030">
<text x="173.2" y="475.4">V</text>
<text x="187.3" y="475.4">V</text>
<text x="208.7" y="475.4">V</text>
<text x="231.4" y="475.4">V</text>
<text x="252.5" y="475.4">V</text>
<text x="265.3" y="475.4">V</text>
<text x="287.2" y="475.4">V</text>
<text x="309.1" y="475.4">V</text>
<text x="331.0" y="475.4">V</text>
<text x="352.6" y="475.4">V</text>
<text x="374.7" y="475.4">V</text>
<text x="427.2" y="475.4">V</text>
<text x="453.5" y="475.4">V</text>
<text x="475.2" y="475.4">V</text>
<text x="593.5" y="475.4">V</text>
<text x="614.6" y="475.4">V</text>
<text x="636.5" y="475.4">V</text>
<text x="658.2" y="475.4">V</text>
<text x="680.4" y="475.4">V</text>
<text x="697.3" y="475.4">V</text>
</g>
<line x1="53.60" y1="106.50" x2="715.20" y2="106.50" stroke="#121212" stroke-width="1.4"/>
<line x1="53.60" y1="478.00" x2="715.20" y2="478.00" stroke="#121212" stroke-width="1.4"/>
<line x1="54.20" y1="106.50" x2="54.20" y2="478.00" stroke="#121212" stroke-width="1.4"/>
<line x1="714.60" y1="106.50" x2="714.60" y2="478.00" stroke="#121212" stroke-width="1.4"/>
<line x1="78.30" y1="171.50" x2="714.60" y2="171.50" stroke="#121212" stroke-width="1.2"/>
<line x1="54.20" y1="276.00" x2="714.60" y2="276.00" stroke="#121212" stroke-width="1.2"/>
<line x1="54.20" y1="291.60" x2="714.60" y2="291.60" stroke="#121212" stroke-width="1.2"/>
<line x1="54.20" y1="298.90" x2="714.60" y2="298.90" stroke="#121212" stroke-width="1.2"/>
<line x1="54.20" y1="307.00" x2="714.60" y2="307.00" stroke="#121212" stroke-width="1.2"/>
<line x1="54.20" y1="314.30" x2="714.60" y2="314.30" stroke="#121212" stroke-width="1.2"/>
<line x1="54.20" y1="322.30" x2="714.60" y2="322.30" stroke="#121212" stroke-width="1.2"/>
<line x1="54.20" y1="329.40" x2="714.60" y2="329.40" stroke="#121212" stroke-width="1.2"/>
<line x1="54.20" y1="337.20" x2="714.60" y2="337.20" stroke="#121212" stroke-width="1.2"/>
<line x1="54.20" y1="344.40" x2="714.60" y2="344.40" stroke="#121212" stroke-width="1.2"/>
<line x1="54.20" y1="352.20" x2="714.60" y2="352.20" stroke="#121212" stroke-width="1.2"/>
<line x1="54.20" y1="359.30" x2="714.60" y2="359.30" stroke="#121212" stroke-width="1.2"/>
<line x1="54.20" y1="367.30" x2="714.60" y2="367.30" stroke="#121212" stroke-width="1.2"/>
<line x1="54.20" y1="374.30" x2="714.60" y2="374.30" stroke="#121212" stroke-width="1.2"/>
<line x1="54.20" y1="382.70" x2="714.60" y2="382.70" stroke="#121212" stroke-width="1.2"/>
<line x1="54.20" y1="390.10" x2="714.60" y2="390.10" stroke="#121212" stroke-width="1.2"/>
<line x1="54.20" y1="398.10" x2="714.60" y2="398.10" stroke="#121212" stroke-width="1.2"/>
<line x1="54.20" y1="405.30" x2="714.60" y2="405.30" stroke="#121212" stroke-width="1.2"/>
<line x1="54.20" y1="413.20" x2="714.60" y2="413.20" stroke="#121212" stroke-width="1.2"/>
<line x1="54.20" y1="420.50" x2="714.60" y2="420.50" stroke="#121212" stroke-width="1.2"/>
<line x1="54.20" y1="428.40" x2="714.60" y2="428.40" stroke="#121212" stroke-width="1.2"/>
<line x1="54.20" y1="435.40" x2="714.60" y2="435.40" stroke="#121212" stroke-width="1.2"/>
<line x1="54.20" y1="443.20" x2="714.60" y2="443.20" stroke="#121212" stroke-width="1.2"/>
<line x1="54.20" y1="450.90" x2="714.60" y2="450.90" stroke="#121212" stroke-width="1.2"/>
<line x1="54.20" y1="458.50" x2="714.60" y2="458.50" stroke="#121212" stroke-width="1.2"/>
<line x1="54.20" y1="470.00" x2="714.60" y2="470.00" stroke="#121212" stroke-width="1.2"/>
<line x1="54.20" y1="292.60" x2="714.60" y2="292.60" stroke="#121212" stroke-width="1.0"/>
<line x1="78.30" y1="106.50" x2="78.30" y2="478.00" stroke="#121212" stroke-width="1.2"/>
<line x1="168.30" y1="106.50" x2="168.30" y2="478.00" stroke="#121212" stroke-width="1.2"/>
<line x1="168.30" y1="106.50" x2="168.30" y2="478.00" stroke="#121212" stroke-width="1.2"/>
<line x1="182.40" y1="171.50" x2="182.40" y2="478.00" stroke="#121212" stroke-width="1.2"/>
<line x1="203.80" y1="171.50" x2="203.80" y2="478.00" stroke="#121212" stroke-width="1.2"/>
<line x1="226.50" y1="171.50" x2="226.50" y2="478.00" stroke="#121212" stroke-width="1.2"/>
<line x1="247.60" y1="171.50" x2="247.60" y2="478.00" stroke="#121212" stroke-width="1.2"/>
<line x1="260.40" y1="106.50" x2="260.40" y2="478.00" stroke="#121212" stroke-width="1.2"/>
<line x1="282.30" y1="171.50" x2="282.30" y2="478.00" stroke="#121212" stroke-width="1.2"/>
<line x1="304.20" y1="171.50" x2="304.20" y2="478.00" stroke="#121212" stroke-width="1.2"/>
<line x1="326.10" y1="171.50" x2="326.10" y2="478.00" stroke="#121212" stroke-width="1.2"/>
<line x1="347.70" y1="171.50" x2="347.70" y2="478.00" stroke="#121212" stroke-width="1.2"/>
<line x1="369.80" y1="106.50" x2="369.80" y2="478.00" stroke="#121212" stroke-width="1.2"/>
<line x1="422.30" y1="106.50" x2="422.30" y2="478.00" stroke="#121212" stroke-width="1.2"/>
<line x1="448.60" y1="171.50" x2="448.60" y2="478.00" stroke="#121212" stroke-width="1.2"/>
<line x1="470.30" y1="171.50" x2="470.30" y2="478.00" stroke="#121212" stroke-width="1.2"/>
<line x1="492.30" y1="106.50" x2="492.30" y2="478.00" stroke="#121212" stroke-width="1.2"/>
<line x1="513.40" y1="171.50" x2="513.40" y2="478.00" stroke="#121212" stroke-width="1.2"/>
<line x1="539.70" y1="171.50" x2="539.70" y2="478.00" stroke="#121212" stroke-width="1.2"/>
<line x1="566.50" y1="171.50" x2="566.50" y2="478.00" stroke="#121212" stroke-width="1.2"/>
<line x1="588.60" y1="106.50" x2="588.60" y2="478.00" stroke="#121212" stroke-width="1.2"/>
<line x1="609.70" y1="171.50" x2="609.70" y2="478.00" stroke="#121212" stroke-width="1.2"/>
<line x1="631.60" y1="171.50" x2="631.60" y2="478.00" stroke="#121212" stroke-width="1.2"/>
<line x1="653.30" y1="171.50" x2="653.30" y2="478.00" stroke="#121212" stroke-width="1.2"/>
<line x1="675.50" y1="171.50" x2="675.50" y2="478.00" stroke="#121212" stroke-width="1.2"/>
<line x1="692.40" y1="171.50" x2="692.40" y2="478.00" stroke="#121212" stroke-width="1.2"/>
<text x="386.00" y="636.40" font-family="Liberation Serif" font-size="17.4" font-weight="bold" fill="#0c0c0c" text-anchor="middle" textLength="160.0" lengthAdjust="spacingAndGlyphs">PROGRESS CHART</text>
<text x="386.50" y="656.20" font-family="Liberation Serif" font-size="17.4" font-weight="bold" fill="#0c0c0c" text-anchor="middle" textLength="157.0" lengthAdjust="spacingAndGlyphs">CAREGIVING NCII</text>
<rect x="32.70" y="668.60" width="57.80" height="371.40" fill="#A0DE9F"/>
<rect x="90.50" y="668.60" width="118.70" height="371.40" fill="#F01FDB"/>
<rect x="209.20" y="668.60" width="108.80" height="371.40" fill="#B8DEE8"/>
<rect x="318.00" y="668.60" width="91.20" height="371.40" fill="#E3FA9C"/>
<rect x="409.20" y="668.60" width="152.90" height="371.40" fill="#FDE9DA"/>
<text x="48.00" y="672.60" font-family="Liberation Serif" font-size="5.8" fill="#1e1e1e" text-anchor="start" textLength="35.0" lengthAdjust="spacingAndGlyphs">MAINTAIN A</text>
<text x="42.00" y="680.10" font-family="Liberation Serif" font-size="5.8" fill="#1e1e1e" text-anchor="start" textLength="42.0" lengthAdjust="spacingAndGlyphs">HEALTHY AND</text>
<text x="60.00" y="686.60" font-family="Liberation Serif" font-size="5.8" fill="#1e1e1e" text-anchor="start" textLength="14.0" lengthAdjust="spacingAndGlyphs">SAFE</text>
<text x="44.00" y="693.10" font-family="Liberation Serif" font-size="5.8" fill="#1e1e1e" text-anchor="start" textLength="42.0" lengthAdjust="spacingAndGlyphs">ENVIRONMENT</text>
<text x="110.00" y="680.10" font-family="Liberation Serif" font-size="5.8" fill="#1e1e1e" text-anchor="start" textLength="73.0" lengthAdjust="spacingAndGlyphs">RESPOND TO EMERGENCY</text>
<text x="213.20" y="680.10" font-family="Liberation Serif" font-size="5.8" fill="#1e1e1e" text-anchor="start" textLength="61.5" lengthAdjust="spacingAndGlyphs">CLEAN LIVING ROOM,</text>
<text x="213.20" y="685.80" font-family="Liberation Serif" font-size="5.8" fill="#1e1e1e" text-anchor="start" textLength="74.0" lengthAdjust="spacingAndGlyphs">DINING ROOM, BED ROOM,</text>
<text x="225.50" y="693.10" font-family="Liberation Serif" font-size="5.8" fill="#1e1e1e" text-anchor="start" textLength="70.0" lengthAdjust="spacingAndGlyphs">TOILET AND BATH ROOM</text>
<text x="324.00" y="680.10" font-family="Liberation Serif" font-size="5.8" fill="#1e1e1e" text-anchor="start" textLength="46.5" lengthAdjust="spacingAndGlyphs">WASH AND IRON</text>
<text x="332.70" y="685.80" font-family="Liberation Serif" font-size="5.8" fill="#1e1e1e" text-anchor="start" textLength="50.0" lengthAdjust="spacingAndGlyphs">CLOTHES, LINENS</text>
<text x="341.70" y="693.10" font-family="Liberation Serif" font-size="5.8" fill="#1e1e1e" text-anchor="start" textLength="38.0" lengthAdjust="spacingAndGlyphs">AND FABRICS</text>
<text x="438.80" y="686.30" font-family="Liberation Serif" font-size="5.8" fill="#1e1e1e" text-anchor="start" textLength="91.6" lengthAdjust="spacingAndGlyphs">PREPARE HOT AND COLD MEALS</text>
<text transform="translate(43.22,843.20) rotate(-90)" font-family="Liberation Serif" font-size="5.8" fill="#3a3a3a" textLength="120.2" lengthAdjust="spacingAndGlyphs">Explain concepts in maintaining clean environment</text>
<text transform="translate(61.62,843.20) rotate(-90)" font-family="Liberation Serif" font-size="5.8" fill="#3a3a3a" textLength="123.0" lengthAdjust="spacingAndGlyphs">Explain procedure in maintaining clean environment</text>
<text transform="translate(78.82,843.20) rotate(-90)" font-family="Liberation Serif" font-size="5.8" fill="#3a3a3a" textLength="120.9" lengthAdjust="spacingAndGlyphs">Assist client in implementing a safe and therapeutic</text>
<text transform="translate(86.32,843.20) rotate(-90)" font-family="Liberation Serif" font-size="5.8" fill="#3a3a3a" textLength="30.0" lengthAdjust="spacingAndGlyphs">environment</text>
<text transform="translate(100.62,843.20) rotate(-90)" font-family="Liberation Serif" font-size="5.8" fill="#2a0a28" textLength="123.0" lengthAdjust="spacingAndGlyphs">Discuss signs and symptoms of various illnesses and</text>
<text transform="translate(118.82,843.20) rotate(-90)" font-family="Liberation Serif" font-size="5.8" fill="#2a0a28" textLength="117.6" lengthAdjust="spacingAndGlyphs">Identify and explain appropriate first aid and basic</text>
<text transform="translate(125.22,843.20) rotate(-90)" font-family="Liberation Serif" font-size="5.8" fill="#2a0a28" textLength="50.2" lengthAdjust="spacingAndGlyphs">emergency procedures</text>
<text transform="translate(140.32,843.20) rotate(-90)" font-family="Liberation Serif" font-size="5.8" fill="#2a0a28" textLength="115.4" lengthAdjust="spacingAndGlyphs">Explain the procedures in implementing infection</text>
<text transform="translate(147.42,843.20) rotate(-90)" font-family="Liberation Serif" font-size="5.8" fill="#2a0a28" textLength="44.5" lengthAdjust="spacingAndGlyphs">control measures</text>
<text transform="translate(161.82,843.20) rotate(-90)" font-family="Liberation Serif" font-size="5.8" fill="#2a0a28" textLength="110.4" lengthAdjust="spacingAndGlyphs">Identify the appropriate procedures in medicine</text>
<text transform="translate(168.92,843.20) rotate(-90)" font-family="Liberation Serif" font-size="5.8" fill="#2a0a28" textLength="33.8" lengthAdjust="spacingAndGlyphs">administration</text>
<text transform="translate(184.02,843.20) rotate(-90)" font-family="Liberation Serif" font-size="5.8" fill="#2a0a28" textLength="127.6" lengthAdjust="spacingAndGlyphs">Identify dangerous, hazardous and threat to safety and</text>
<text transform="translate(191.12,843.20) rotate(-90)" font-family="Liberation Serif" font-size="5.8" fill="#2a0a28" textLength="24.5" lengthAdjust="spacingAndGlyphs">well being</text>
<text transform="translate(203.16,843.20) rotate(-90)" font-family="Liberation Serif" font-size="2.7" fill="#7a3a70" textLength="56.7" lengthAdjust="spacingAndGlyphs">Minimize hazards and risks</text>
<text transform="translate(219.32,843.20) rotate(-90)" font-family="Liberation Serif" font-size="5.8" fill="#3a3a3a" textLength="108.0" lengthAdjust="spacingAndGlyphs">Explain the principles and proper procedures in</text>
<text transform="translate(226.12,843.20) rotate(-90)" font-family="Liberation Serif" font-size="5.8" fill="#3a3a3a" textLength="53.3" lengthAdjust="spacingAndGlyphs">cleaning and sanitation</text>
<text transform="translate(240.32,843.20) rotate(-90)" font-family="Liberation Serif" font-size="5.8" fill="#3a3a3a" textLength="90.0" lengthAdjust="spacingAndGlyphs">Clean and sanitize toilet and bathroom</text>
<text transform="translate(255.96,843.20) rotate(-90)" font-family="Liberation Serif" font-size="2.7" fill="#8a8a8a" textLength="96.0" lengthAdjust="spacingAndGlyphs">Identify different kinds of cleaning agents</text>
<text transform="translate(270.22,843.20) rotate(-90)" font-family="Liberation Serif" font-size="5.8" fill="#3a3a3a" textLength="108.0" lengthAdjust="spacingAndGlyphs">Make up beds and cots  (open and closed bed)</text>
<text transform="translate(288.22,843.20) rotate(-90)" font-family="Liberation Serif" font-size="5.8" fill="#3a3a3a" textLength="69.8" lengthAdjust="spacingAndGlyphs">Maintain a clean environment</text>
<text transform="translate(306.22,843.20) rotate(-90)" font-family="Liberation Serif" font-size="5.8" fill="#3a3a3a" textLength="105.0" lengthAdjust="spacingAndGlyphs">Perform after care activities of materials and</text>
<text transform="translate(313.62,843.20) rotate(-90)" font-family="Liberation Serif" font-size="5.8" fill="#3a3a3a" textLength="25.6" lengthAdjust="spacingAndGlyphs">environment</text>
<text transform="translate(328.22,843.20) rotate(-90)" font-family="Liberation Serif" font-size="5.8" fill="#3a3a3a" textLength="125.7" lengthAdjust="spacingAndGlyphs">Explain the principles and procedures in washing and</text>
<text transform="translate(334.42,843.20) rotate(-90)" font-family="Liberation Serif" font-size="5.8" fill="#3a3a3a" textLength="35.4" lengthAdjust="spacingAndGlyphs">ironing clothes</text>
<text transform="translate(350.12,843.20) rotate(-90)" font-family="Liberation Serif" font-size="5.8" fill="#3a3a3a" textLength="107.2" lengthAdjust="spacingAndGlyphs">Explain the procedures in operating tools and</text>
<text transform="translate(356.32,843.20) rotate(-90)" font-family="Liberation Serif" font-size="5.8" fill="#3a3a3a" textLength="25.9" lengthAdjust="spacingAndGlyphs">equipment</text>
<text transform="translate(369.16,843.20) rotate(-90)" font-family="Liberation Serif" font-size="2.7" fill="#8a8a8a" textLength="39.5" lengthAdjust="spacingAndGlyphs">Wash clothes</text>
<text transform="translate(382.56,843.20) rotate(-90)" font-family="Liberation Serif" font-size="2.7" fill="#8a8a8a" textLength="72.4" lengthAdjust="spacingAndGlyphs">Iron clothes, linens and fabrics</text>
<text transform="translate(397.32,843.20) rotate(-90)" font-family="Liberation Serif" font-size="5.8" fill="#3a3a3a" textLength="103.2" lengthAdjust="spacingAndGlyphs">Perform after care activities of materials and</text>
<text transform="translate(404.82,843.20) rotate(-90)" font-family="Liberation Serif" font-size="5.8" fill="#3a3a3a" textLength="25.2" lengthAdjust="spacingAndGlyphs">environment</text>
<text transform="translate(420.12,843.20) rotate(-90)" font-family="Liberation Serif" font-size="5.8" fill="#3a3a3a" textLength="115.6" lengthAdjust="spacingAndGlyphs">Explain the procedures in preparing hot and cold</text>
<text transform="translate(426.42,843.20) rotate(-90)" font-family="Liberation Serif" font-size="5.8" fill="#3a3a3a" textLength="13.5" lengthAdjust="spacingAndGlyphs">meals</text>
<text transform="translate(439.06,843.20) rotate(-90)" font-family="Liberation Serif" font-size="2.7" fill="#8a8a8a" textLength="63.5" lengthAdjust="spacingAndGlyphs">Prepare ingredients</text>
<text transform="translate(452.66,843.20) rotate(-90)" font-family="Liberation Serif" font-size="2.7" fill="#8a8a8a" textLength="118.7" lengthAdjust="spacingAndGlyphs">Prepare sandwiches, salads and appetizers dishes</text>
<text transform="translate(467.02,843.20) rotate(-90)" font-family="Liberation Serif" font-size="5.8" fill="#3a3a3a" textLength="118.7" lengthAdjust="spacingAndGlyphs">Cook meals and dishes according to recipe/ dietary</text>
<text transform="translate(474.32,843.20) rotate(-90)" font-family="Liberation Serif" font-size="5.8" fill="#3a3a3a" textLength="31.2" lengthAdjust="spacingAndGlyphs">requirements</text>
<text transform="translate(487.46,843.20) rotate(-90)" font-family="Liberation Serif" font-size="2.7" fill="#8a8a8a" textLength="78.2" lengthAdjust="spacingAndGlyphs">Set table and serve meals</text>
<text transform="translate(502.42,843.20) rotate(-90)" font-family="Liberation Serif" font-size="5.8" fill="#3a3a3a" textLength="105.2" lengthAdjust="spacingAndGlyphs">Perform after care activities of materials and</text>
<text transform="translate(508.62,843.20) rotate(-90)" font-family="Liberation Serif" font-size="5.8" fill="#3a3a3a" textLength="25.0" lengthAdjust="spacingAndGlyphs">environment</text>
<text transform="translate(522.46,843.20) rotate(-90)" font-family="Liberation Serif" font-size="2.7" fill="#8a8a8a" textLength="118.7" lengthAdjust="spacingAndGlyphs">Store and preserve food and maintain kitchen stock</text>
<text transform="translate(536.82,843.20) rotate(-90)" font-family="Liberation Serif" font-size="5.8" fill="#3a3a3a" textLength="120.8" lengthAdjust="spacingAndGlyphs">Demonstrate clear and effective communication on</text>
<text transform="translate(543.12,843.20) rotate(-90)" font-family="Liberation Serif" font-size="5.8" fill="#3a3a3a" textLength="17.7" lengthAdjust="spacingAndGlyphs">the job</text>
<text transform="translate(557.76,843.20) rotate(-90)" font-family="Liberation Serif" font-size="2.7" fill="#8a8a8a" textLength="101.0" lengthAdjust="spacingAndGlyphs">Maintain records of meals and food costs</text>
<g font-family="Liberation Serif" font-size="5.3" fill="#262626">
<text x="37.0" y="854.7">V</text>
<text x="55.4" y="854.7">V</text>
<text x="73.6" y="854.7">V</text>
<text x="94.8" y="854.7">V</text>
<text x="113.0" y="854.7">V</text>
<text x="134.1" y="854.7">V</text>
<text x="157.0" y="854.7">V</text>
<text x="177.8" y="854.7">V</text>
<text x="200.1" y="854.7">V</text>
<text x="213.5" y="854.7">V</text>
<text x="234.7" y="854.7">V</text>
<text x="253.0" y="854.7">V</text>
<text x="264.6" y="854.7">V</text>
<text x="282.9" y="854.7">V</text>
<text x="300.3" y="854.7">V</text>
<text x="322.3" y="854.7">V</text>
<text x="343.8" y="854.7">V</text>
<text x="365.8" y="854.7">V</text>
<text x="378.9" y="854.7">V</text>
<text x="392.4" y="854.7">V</text>
<text x="413.5" y="854.7">V</text>
<text x="435.7" y="854.7">V</text>
<text x="449.1" y="854.7">V</text>
<text x="462.3" y="854.7">V</text>
<text x="483.8" y="854.7">V</text>
<text x="497.0" y="854.7">V</text>
<text x="519.0" y="854.7">V</text>
<text x="531.9" y="854.7">V</text>
<text x="553.5" y="854.7">V</text>
</g>
<g font-family="Liberation Serif" font-size="5.3" fill="#262626">
<text x="37.0" y="863.9">V</text>
<text x="55.4" y="863.9">V</text>
<text x="73.6" y="863.9">V</text>
<text x="94.8" y="863.9">V</text>
<text x="113.0" y="863.9">V</text>
<text x="134.1" y="863.9">V</text>
<text x="157.0" y="863.9">V</text>
<text x="177.8" y="863.9">V</text>
<text x="200.1" y="863.9">V</text>
<text x="213.5" y="863.9">V</text>
<text x="234.7" y="863.9">V</text>
<text x="253.0" y="863.9">V</text>
<text x="264.6" y="863.9">V</text>
<text x="282.9" y="863.9">V</text>
<text x="300.3" y="863.9">V</text>
<text x="322.3" y="863.9">V</text>
<text x="343.8" y="863.9">V</text>
<text x="365.8" y="863.9">V</text>
<text x="378.9" y="863.9">V</text>
<text x="392.4" y="863.9">V</text>
<text x="413.5" y="863.9">V</text>
<text x="435.7" y="863.9">V</text>
<text x="449.1" y="863.9">V</text>
<text x="462.3" y="863.9">V</text>
<text x="483.8" y="863.9">V</text>
<text x="497.0" y="863.9">V</text>
<text x="519.0" y="863.9">V</text>
<text x="531.9" y="863.9">V</text>
<text x="553.5" y="863.9">V</text>
</g>
<g font-family="Liberation Serif" font-size="5.3" fill="#262626">
<text x="37.0" y="872.8">V</text>
<text x="55.4" y="872.8">V</text>
<text x="73.6" y="872.8">V</text>
<text x="94.8" y="872.8">V</text>
<text x="113.0" y="872.8">V</text>
<text x="134.1" y="872.8">V</text>
<text x="157.0" y="872.8">V</text>
<text x="177.8" y="872.8">V</text>
<text x="200.1" y="872.8">V</text>
<text x="213.5" y="872.8">V</text>
<text x="234.7" y="872.8">V</text>
<text x="253.0" y="872.8">V</text>
<text x="264.6" y="872.8">V</text>
<text x="282.9" y="872.8">V</text>
<text x="300.3" y="872.8">V</text>
<text x="322.3" y="872.8">V</text>
<text x="343.8" y="872.8">V</text>
<text x="365.8" y="872.8">V</text>
<text x="378.9" y="872.8">V</text>
<text x="392.4" y="872.8">V</text>
<text x="413.5" y="872.8">V</text>
<text x="435.7" y="872.8">V</text>
<text x="449.1" y="872.8">V</text>
<text x="462.3" y="872.8">V</text>
<text x="483.8" y="872.8">V</text>
<text x="497.0" y="872.8">V</text>
<text x="519.0" y="872.8">V</text>
<text x="531.9" y="872.8">V</text>
<text x="553.5" y="872.8">V</text>
</g>
<g font-family="Liberation Serif" font-size="5.3" fill="#262626">
<text x="37.0" y="880.8">V</text>
<text x="55.4" y="880.8">V</text>
<text x="73.6" y="880.8">V</text>
<text x="94.8" y="880.8">V</text>
<text x="113.0" y="880.8">V</text>
<text x="134.1" y="880.8">V</text>
<text x="157.0" y="880.8">V</text>
<text x="177.8" y="880.8">V</text>
<text x="200.1" y="880.8">V</text>
<text x="213.5" y="880.8">V</text>
<text x="234.7" y="880.8">V</text>
<text x="253.0" y="880.8">V</text>
<text x="264.6" y="880.8">V</text>
<text x="282.9" y="880.8">V</text>
<text x="300.3" y="880.8">V</text>
<text x="322.3" y="880.8">V</text>
<text x="343.8" y="880.8">V</text>
<text x="365.8" y="880.8">V</text>
<text x="378.9" y="880.8">V</text>
<text x="392.4" y="880.8">V</text>
<text x="413.5" y="880.8">V</text>
<text x="435.7" y="880.8">V</text>
<text x="449.1" y="880.8">V</text>
<text x="462.3" y="880.8">V</text>
<text x="483.8" y="880.8">V</text>
<text x="497.0" y="880.8">V</text>
<text x="519.0" y="880.8">V</text>
<text x="531.9" y="880.8">V</text>
<text x="553.5" y="880.8">V</text>
</g>
<g font-family="Liberation Serif" font-size="5.3" fill="#262626">
<text x="37.0" y="888.9">V</text>
<text x="55.4" y="888.9">V</text>
<text x="73.6" y="888.9">V</text>
<text x="94.8" y="888.9">V</text>
<text x="113.0" y="888.9">V</text>
<text x="134.1" y="888.9">V</text>
<text x="157.0" y="888.9">V</text>
<text x="177.8" y="888.9">V</text>
<text x="200.1" y="888.9">V</text>
<text x="213.5" y="888.9">V</text>
<text x="234.7" y="888.9">V</text>
<text x="253.0" y="888.9">V</text>
<text x="264.6" y="888.9">V</text>
<text x="282.9" y="888.9">V</text>
<text x="300.3" y="888.9">V</text>
<text x="322.3" y="888.9">V</text>
<text x="343.8" y="888.9">V</text>
<text x="365.8" y="888.9">V</text>
<text x="378.9" y="888.9">V</text>
<text x="392.4" y="888.9">V</text>
<text x="413.5" y="888.9">V</text>
<text x="435.7" y="888.9">V</text>
<text x="449.1" y="888.9">V</text>
<text x="462.3" y="888.9">V</text>
<text x="483.8" y="888.9">V</text>
<text x="497.0" y="888.9">V</text>
<text x="519.0" y="888.9">V</text>
<text x="531.9" y="888.9">V</text>
<text x="553.5" y="888.9">V</text>
</g>
<g font-family="Liberation Serif" font-size="5.3" fill="#262626">
<text x="37.0" y="897.1">V</text>
<text x="55.4" y="897.1">V</text>
<text x="73.6" y="897.1">V</text>
<text x="94.8" y="897.1">V</text>
<text x="113.0" y="897.1">V</text>
<text x="134.1" y="897.1">V</text>
<text x="157.0" y="897.1">V</text>
<text x="177.8" y="897.1">V</text>
<text x="200.1" y="897.1">V</text>
<text x="213.5" y="897.1">V</text>
<text x="234.7" y="897.1">V</text>
<text x="253.0" y="897.1">V</text>
<text x="264.6" y="897.1">V</text>
<text x="282.9" y="897.1">V</text>
<text x="300.3" y="897.1">V</text>
<text x="322.3" y="897.1">V</text>
<text x="343.8" y="897.1">V</text>
<text x="365.8" y="897.1">V</text>
<text x="378.9" y="897.1">V</text>
<text x="392.4" y="897.1">V</text>
<text x="413.5" y="897.1">V</text>
<text x="435.7" y="897.1">V</text>
<text x="449.1" y="897.1">V</text>
<text x="462.3" y="897.1">V</text>
<text x="483.8" y="897.1">V</text>
<text x="497.0" y="897.1">V</text>
<text x="519.0" y="897.1">V</text>
<text x="531.9" y="897.1">V</text>
<text x="553.5" y="897.1">V</text>
</g>
<g font-family="Liberation Serif" font-size="5.3" fill="#262626">
<text x="37.0" y="907.7">V</text>
<text x="55.4" y="907.7">V</text>
<text x="73.6" y="907.7">V</text>
<text x="94.8" y="907.7">V</text>
<text x="113.0" y="907.7">V</text>
<text x="134.1" y="907.7">V</text>
<text x="157.0" y="907.7">V</text>
<text x="177.8" y="907.7">V</text>
<text x="200.1" y="907.7">V</text>
<text x="213.5" y="907.7">V</text>
<text x="234.7" y="907.7">V</text>
<text x="253.0" y="907.7">V</text>
<text x="264.6" y="907.7">V</text>
<text x="282.9" y="907.7">V</text>
<text x="300.3" y="907.7">V</text>
<text x="322.3" y="907.7">V</text>
<text x="343.8" y="907.7">V</text>
<text x="365.8" y="907.7">V</text>
<text x="378.9" y="907.7">V</text>
<text x="392.4" y="907.7">V</text>
<text x="413.5" y="907.7">V</text>
<text x="435.7" y="907.7">V</text>
<text x="449.1" y="907.7">V</text>
<text x="462.3" y="907.7">V</text>
<text x="483.8" y="907.7">V</text>
<text x="497.0" y="907.7">V</text>
<text x="519.0" y="907.7">V</text>
<text x="531.9" y="907.7">V</text>
<text x="553.5" y="907.7">V</text>
</g>
<g font-family="Liberation Serif" font-size="5.3" fill="#262626">
<text x="37.0" y="915.8">V</text>
<text x="55.4" y="915.8">V</text>
<text x="73.6" y="915.8">V</text>
<text x="94.8" y="915.8">V</text>
<text x="113.0" y="915.8">V</text>
<text x="134.1" y="915.8">V</text>
<text x="157.0" y="915.8">V</text>
<text x="177.8" y="915.8">V</text>
<text x="200.1" y="915.8">V</text>
<text x="213.5" y="915.8">V</text>
<text x="234.7" y="915.8">V</text>
<text x="253.0" y="915.8">V</text>
<text x="264.6" y="915.8">V</text>
<text x="282.9" y="915.8">V</text>
<text x="300.3" y="915.8">V</text>
<text x="322.3" y="915.8">V</text>
<text x="343.8" y="915.8">V</text>
<text x="365.8" y="915.8">V</text>
<text x="378.9" y="915.8">V</text>
<text x="392.4" y="915.8">V</text>
<text x="413.5" y="915.8">V</text>
<text x="435.7" y="915.8">V</text>
<text x="449.1" y="915.8">V</text>
<text x="462.3" y="915.8">V</text>
<text x="483.8" y="915.8">V</text>
<text x="497.0" y="915.8">V</text>
<text x="519.0" y="915.8">V</text>
<text x="531.9" y="915.8">V</text>
<text x="553.5" y="915.8">V</text>
</g>
<g font-family="Liberation Serif" font-size="5.3" fill="#262626">
<text x="37.0" y="924.5">V</text>
<text x="55.4" y="924.5">V</text>
<text x="73.6" y="924.5">V</text>
<text x="94.8" y="924.5">V</text>
<text x="113.0" y="924.5">V</text>
<text x="134.1" y="924.5">V</text>
<text x="157.0" y="924.5">V</text>
<text x="177.8" y="924.5">V</text>
<text x="200.1" y="924.5">V</text>
<text x="213.5" y="924.5">V</text>
<text x="234.7" y="924.5">V</text>
<text x="253.0" y="924.5">V</text>
<text x="264.6" y="924.5">V</text>
<text x="282.9" y="924.5">V</text>
<text x="300.3" y="924.5">V</text>
<text x="322.3" y="924.5">V</text>
<text x="343.8" y="924.5">V</text>
<text x="365.8" y="924.5">V</text>
<text x="378.9" y="924.5">V</text>
<text x="392.4" y="924.5">V</text>
<text x="413.5" y="924.5">V</text>
<text x="435.7" y="924.5">V</text>
<text x="449.1" y="924.5">V</text>
<text x="462.3" y="924.5">V</text>
<text x="483.8" y="924.5">V</text>
<text x="497.0" y="924.5">V</text>
<text x="519.0" y="924.5">V</text>
<text x="531.9" y="924.5">V</text>
<text x="553.5" y="924.5">V</text>
</g>
<g font-family="Liberation Serif" font-size="5.3" fill="#262626">
<text x="37.0" y="932.0">V</text>
<text x="55.4" y="932.0">V</text>
<text x="73.6" y="932.0">V</text>
<text x="94.8" y="932.0">V</text>
<text x="113.0" y="932.0">V</text>
<text x="134.1" y="932.0">V</text>
<text x="157.0" y="932.0">V</text>
<text x="177.8" y="932.0">V</text>
<text x="200.1" y="932.0">V</text>
<text x="213.5" y="932.0">V</text>
<text x="234.7" y="932.0">V</text>
<text x="253.0" y="932.0">V</text>
<text x="264.6" y="932.0">V</text>
<text x="282.9" y="932.0">V</text>
<text x="300.3" y="932.0">V</text>
<text x="322.3" y="932.0">V</text>
<text x="343.8" y="932.0">V</text>
<text x="365.8" y="932.0">V</text>
<text x="378.9" y="932.0">V</text>
<text x="392.4" y="932.0">V</text>
<text x="413.5" y="932.0">V</text>
<text x="435.7" y="932.0">V</text>
<text x="449.1" y="932.0">V</text>
<text x="462.3" y="932.0">V</text>
<text x="483.8" y="932.0">V</text>
<text x="497.0" y="932.0">V</text>
<text x="519.0" y="932.0">V</text>
<text x="531.9" y="932.0">V</text>
<text x="553.5" y="932.0">V</text>
</g>
<g font-family="Liberation Serif" font-size="5.3" fill="#262626">
<text x="37.0" y="940.8">V</text>
<text x="55.4" y="940.8">V</text>
<text x="73.6" y="940.8">V</text>
<text x="94.8" y="940.8">V</text>
<text x="113.0" y="940.8">V</text>
<text x="134.1" y="940.8">V</text>
<text x="157.0" y="940.8">V</text>
<text x="177.8" y="940.8">V</text>
<text x="200.1" y="940.8">V</text>
<text x="213.5" y="940.8">V</text>
<text x="234.7" y="940.8">V</text>
<text x="253.0" y="940.8">V</text>
<text x="264.6" y="940.8">V</text>
<text x="282.9" y="940.8">V</text>
<text x="300.3" y="940.8">V</text>
<text x="322.3" y="940.8">V</text>
<text x="343.8" y="940.8">V</text>
<text x="365.8" y="940.8">V</text>
<text x="378.9" y="940.8">V</text>
<text x="392.4" y="940.8">V</text>
<text x="413.5" y="940.8">V</text>
<text x="435.7" y="940.8">V</text>
<text x="449.1" y="940.8">V</text>
<text x="462.3" y="940.8">V</text>
<text x="483.8" y="940.8">V</text>
<text x="497.0" y="940.8">V</text>
<text x="519.0" y="940.8">V</text>
<text x="531.9" y="940.8">V</text>
<text x="553.5" y="940.8">V</text>
</g>
<g font-family="Liberation Serif" font-size="5.3" fill="#262626">
<text x="37.0" y="949.0">V</text>
<text x="55.4" y="949.0">V</text>
<text x="73.6" y="949.0">V</text>
<text x="94.8" y="949.0">V</text>
<text x="113.0" y="949.0">V</text>
<text x="134.1" y="949.0">V</text>
<text x="157.0" y="949.0">V</text>
<text x="177.8" y="949.0">V</text>
<text x="200.1" y="949.0">V</text>
<text x="213.5" y="949.0">V</text>
<text x="234.7" y="949.0">V</text>
<text x="253.0" y="949.0">V</text>
<text x="264.6" y="949.0">V</text>
<text x="282.9" y="949.0">V</text>
<text x="300.3" y="949.0">V</text>
<text x="322.3" y="949.0">V</text>
<text x="343.8" y="949.0">V</text>
<text x="365.8" y="949.0">V</text>
<text x="378.9" y="949.0">V</text>
<text x="392.4" y="949.0">V</text>
<text x="413.5" y="949.0">V</text>
<text x="435.7" y="949.0">V</text>
<text x="449.1" y="949.0">V</text>
<text x="462.3" y="949.0">V</text>
<text x="483.8" y="949.0">V</text>
<text x="497.0" y="949.0">V</text>
<text x="519.0" y="949.0">V</text>
<text x="531.9" y="949.0">V</text>
<text x="553.5" y="949.0">V</text>
</g>
<g font-family="Liberation Serif" font-size="5.3" fill="#262626">
<text x="37.0" y="956.9">V</text>
<text x="55.4" y="956.9">V</text>
<text x="73.6" y="956.9">V</text>
<text x="94.8" y="956.9">V</text>
<text x="113.0" y="956.9">V</text>
<text x="134.1" y="956.9">V</text>
<text x="157.0" y="956.9">V</text>
<text x="177.8" y="956.9">V</text>
<text x="200.1" y="956.9">V</text>
<text x="213.5" y="956.9">V</text>
<text x="234.7" y="956.9">V</text>
<text x="253.0" y="956.9">V</text>
<text x="264.6" y="956.9">V</text>
<text x="282.9" y="956.9">V</text>
<text x="300.3" y="956.9">V</text>
<text x="322.3" y="956.9">V</text>
<text x="343.8" y="956.9">V</text>
<text x="365.8" y="956.9">V</text>
<text x="378.9" y="956.9">V</text>
<text x="392.4" y="956.9">V</text>
<text x="413.5" y="956.9">V</text>
<text x="435.7" y="956.9">V</text>
<text x="449.1" y="956.9">V</text>
<text x="462.3" y="956.9">V</text>
<text x="483.8" y="956.9">V</text>
<text x="497.0" y="956.9">V</text>
<text x="519.0" y="956.9">V</text>
<text x="531.9" y="956.9">V</text>
<text x="553.5" y="956.9">V</text>
</g>
<g font-family="Liberation Serif" font-size="5.3" fill="#262626">
<text x="37.0" y="964.8">V</text>
<text x="55.4" y="964.8">V</text>
<text x="73.6" y="964.8">V</text>
<text x="94.8" y="964.8">V</text>
<text x="113.0" y="964.8">V</text>
<text x="134.1" y="964.8">V</text>
<text x="157.0" y="964.8">V</text>
<text x="177.8" y="964.8">V</text>
<text x="200.1" y="964.8">V</text>
<text x="213.5" y="964.8">V</text>
<text x="234.7" y="964.8">V</text>
<text x="253.0" y="964.8">V</text>
<text x="264.6" y="964.8">V</text>
<text x="282.9" y="964.8">V</text>
<text x="300.3" y="964.8">V</text>
<text x="322.3" y="964.8">V</text>
<text x="343.8" y="964.8">V</text>
<text x="365.8" y="964.8">V</text>
<text x="378.9" y="964.8">V</text>
<text x="392.4" y="964.8">V</text>
<text x="413.5" y="964.8">V</text>
<text x="435.7" y="964.8">V</text>
<text x="449.1" y="964.8">V</text>
<text x="462.3" y="964.8">V</text>
<text x="483.8" y="964.8">V</text>
<text x="497.0" y="964.8">V</text>
<text x="519.0" y="964.8">V</text>
<text x="531.9" y="964.8">V</text>
<text x="553.5" y="964.8">V</text>
</g>
<g font-family="Liberation Serif" font-size="5.3" fill="#262626">
<text x="37.0" y="972.9">V</text>
<text x="55.4" y="972.9">V</text>
<text x="73.6" y="972.9">V</text>
<text x="94.8" y="972.9">V</text>
<text x="113.0" y="972.9">V</text>
<text x="134.1" y="972.9">V</text>
<text x="157.0" y="972.9">V</text>
<text x="177.8" y="972.9">V</text>
<text x="200.1" y="972.9">V</text>
<text x="213.5" y="972.9">V</text>
<text x="234.7" y="972.9">V</text>
<text x="253.0" y="972.9">V</text>
<text x="264.6" y="972.9">V</text>
<text x="282.9" y="972.9">V</text>
<text x="300.3" y="972.9">V</text>
<text x="322.3" y="972.9">V</text>
<text x="343.8" y="972.9">V</text>
<text x="365.8" y="972.9">V</text>
<text x="378.9" y="972.9">V</text>
<text x="392.4" y="972.9">V</text>
<text x="413.5" y="972.9">V</text>
<text x="435.7" y="972.9">V</text>
<text x="449.1" y="972.9">V</text>
<text x="462.3" y="972.9">V</text>
<text x="483.8" y="972.9">V</text>
<text x="497.0" y="972.9">V</text>
<text x="519.0" y="972.9">V</text>
<text x="531.9" y="972.9">V</text>
<text x="553.5" y="972.9">V</text>
</g>
<g font-family="Liberation Serif" font-size="5.3" fill="#262626">
<text x="37.0" y="982.3">V</text>
<text x="55.4" y="982.3">V</text>
<text x="73.6" y="982.3">V</text>
<text x="94.8" y="982.3">V</text>
<text x="113.0" y="982.3">V</text>
<text x="134.1" y="982.3">V</text>
<text x="157.0" y="982.3">V</text>
<text x="177.8" y="982.3">V</text>
<text x="200.1" y="982.3">V</text>
<text x="213.5" y="982.3">V</text>
<text x="234.7" y="982.3">V</text>
<text x="253.0" y="982.3">V</text>
<text x="264.6" y="982.3">V</text>
<text x="282.9" y="982.3">V</text>
<text x="300.3" y="982.3">V</text>
<text x="322.3" y="982.3">V</text>
<text x="343.8" y="982.3">V</text>
<text x="365.8" y="982.3">V</text>
<text x="378.9" y="982.3">V</text>
<text x="392.4" y="982.3">V</text>
<text x="413.5" y="982.3">V</text>
<text x="435.7" y="982.3">V</text>
<text x="449.1" y="982.3">V</text>
<text x="462.3" y="982.3">V</text>
<text x="483.8" y="982.3">V</text>
<text x="497.0" y="982.3">V</text>
<text x="519.0" y="982.3">V</text>
<text x="531.9" y="982.3">V</text>
<text x="553.5" y="982.3">V</text>
</g>
<g font-family="Liberation Serif" font-size="5.3" fill="#262626">
<text x="37.0" y="990.4">V</text>
<text x="55.4" y="990.4">V</text>
<text x="73.6" y="990.4">V</text>
<text x="94.8" y="990.4">V</text>
<text x="113.0" y="990.4">V</text>
<text x="134.1" y="990.4">V</text>
<text x="157.0" y="990.4">V</text>
<text x="177.8" y="990.4">V</text>
<text x="200.1" y="990.4">V</text>
<text x="213.5" y="990.4">V</text>
<text x="234.7" y="990.4">V</text>
<text x="253.0" y="990.4">V</text>
<text x="264.6" y="990.4">V</text>
<text x="282.9" y="990.4">V</text>
<text x="300.3" y="990.4">V</text>
<text x="322.3" y="990.4">V</text>
<text x="343.8" y="990.4">V</text>
<text x="365.8" y="990.4">V</text>
<text x="378.9" y="990.4">V</text>
<text x="392.4" y="990.4">V</text>
<text x="413.5" y="990.4">V</text>
<text x="435.7" y="990.4">V</text>
<text x="449.1" y="990.4">V</text>
<text x="462.3" y="990.4">V</text>
<text x="483.8" y="990.4">V</text>
<text x="497.0" y="990.4">V</text>
<text x="519.0" y="990.4">V</text>
<text x="531.9" y="990.4">V</text>
<text x="553.5" y="990.4">V</text>
</g>
<g font-family="Liberation Serif" font-size="5.3" fill="#262626">
<text x="37.0" y="997.7">V</text>
<text x="55.4" y="997.7">V</text>
<text x="73.6" y="997.7">V</text>
<text x="94.8" y="997.7">V</text>
<text x="113.0" y="997.7">V</text>
<text x="134.1" y="997.7">V</text>
<text x="157.0" y="997.7">V</text>
<text x="177.8" y="997.7">V</text>
<text x="200.1" y="997.7">V</text>
<text x="213.5" y="997.7">V</text>
<text x="234.7" y="997.7">V</text>
<text x="253.0" y="997.7">V</text>
<text x="264.6" y="997.7">V</text>
<text x="282.9" y="997.7">V</text>
<text x="300.3" y="997.7">V</text>
<text x="322.3" y="997.7">V</text>
<text x="343.8" y="997.7">V</text>
<text x="365.8" y="997.7">V</text>
<text x="378.9" y="997.7">V</text>
<text x="392.4" y="997.7">V</text>
<text x="413.5" y="997.7">V</text>
<text x="435.7" y="997.7">V</text>
<text x="449.1" y="997.7">V</text>
<text x="462.3" y="997.7">V</text>
<text x="483.8" y="997.7">V</text>
<text x="497.0" y="997.7">V</text>
<text x="519.0" y="997.7">V</text>
<text x="531.9" y="997.7">V</text>
<text x="553.5" y="997.7">V</text>
</g>
<g font-family="Liberation Serif" font-size="5.3" fill="#262626">
<text x="37.0" y="1006.7">V</text>
<text x="55.4" y="1006.7">V</text>
<text x="73.6" y="1006.7">V</text>
<text x="94.8" y="1006.7">V</text>
<text x="113.0" y="1006.7">V</text>
<text x="134.1" y="1006.7">V</text>
<text x="157.0" y="1006.7">V</text>
<text x="177.8" y="1006.7">V</text>
<text x="200.1" y="1006.7">V</text>
<text x="213.5" y="1006.7">V</text>
<text x="234.7" y="1006.7">V</text>
<text x="253.0" y="1006.7">V</text>
<text x="264.6" y="1006.7">V</text>
<text x="282.9" y="1006.7">V</text>
<text x="300.3" y="1006.7">V</text>
<text x="322.3" y="1006.7">V</text>
<text x="343.8" y="1006.7">V</text>
<text x="365.8" y="1006.7">V</text>
<text x="378.9" y="1006.7">V</text>
<text x="392.4" y="1006.7">V</text>
<text x="413.5" y="1006.7">V</text>
<text x="435.7" y="1006.7">V</text>
<text x="449.1" y="1006.7">V</text>
<text x="462.3" y="1006.7">V</text>
<text x="483.8" y="1006.7">V</text>
<text x="497.0" y="1006.7">V</text>
<text x="519.0" y="1006.7">V</text>
<text x="531.9" y="1006.7">V</text>
<text x="553.5" y="1006.7">V</text>
</g>
<g font-family="Liberation Serif" font-size="5.3" fill="#262626">
<text x="37.0" y="1014.8">V</text>
<text x="55.4" y="1014.8">V</text>
<text x="73.6" y="1014.8">V</text>
<text x="94.8" y="1014.8">V</text>
<text x="113.0" y="1014.8">V</text>
<text x="134.1" y="1014.8">V</text>
<text x="157.0" y="1014.8">V</text>
<text x="177.8" y="1014.8">V</text>
<text x="200.1" y="1014.8">V</text>
<text x="213.5" y="1014.8">V</text>
<text x="234.7" y="1014.8">V</text>
<text x="253.0" y="1014.8">V</text>
<text x="264.6" y="1014.8">V</text>
<text x="282.9" y="1014.8">V</text>
<text x="300.3" y="1014.8">V</text>
<text x="322.3" y="1014.8">V</text>
<text x="343.8" y="1014.8">V</text>
<text x="365.8" y="1014.8">V</text>
<text x="378.9" y="1014.8">V</text>
<text x="392.4" y="1014.8">V</text>
<text x="413.5" y="1014.8">V</text>
<text x="435.7" y="1014.8">V</text>
<text x="449.1" y="1014.8">V</text>
<text x="462.3" y="1014.8">V</text>
<text x="483.8" y="1014.8">V</text>
<text x="497.0" y="1014.8">V</text>
<text x="519.0" y="1014.8">V</text>
<text x="531.9" y="1014.8">V</text>
<text x="553.5" y="1014.8">V</text>
</g>
<g font-family="Liberation Serif" font-size="5.3" fill="#262626">
<text x="37.0" y="1022.9">V</text>
<text x="55.4" y="1022.9">V</text>
<text x="73.6" y="1022.9">V</text>
<text x="94.8" y="1022.9">V</text>
<text x="113.0" y="1022.9">V</text>
<text x="134.1" y="1022.9">V</text>
<text x="157.0" y="1022.9">V</text>
<text x="177.8" y="1022.9">V</text>
<text x="200.1" y="1022.9">V</text>
<text x="213.5" y="1022.9">V</text>
<text x="234.7" y="1022.9">V</text>
<text x="253.0" y="1022.9">V</text>
<text x="264.6" y="1022.9">V</text>
<text x="282.9" y="1022.9">V</text>
<text x="300.3" y="1022.9">V</text>
<text x="322.3" y="1022.9">V</text>
<text x="343.8" y="1022.9">V</text>
<text x="365.8" y="1022.9">V</text>
<text x="378.9" y="1022.9">V</text>
<text x="392.4" y="1022.9">V</text>
<text x="413.5" y="1022.9">V</text>
<text x="435.7" y="1022.9">V</text>
<text x="449.1" y="1022.9">V</text>
<text x="462.3" y="1022.9">V</text>
<text x="483.8" y="1022.9">V</text>
<text x="497.0" y="1022.9">V</text>
<text x="519.0" y="1022.9">V</text>
<text x="531.9" y="1022.9">V</text>
<text x="553.5" y="1022.9">V</text>
</g>
<line x1="32.10" y1="668.60" x2="562.70" y2="668.60" stroke="#121212" stroke-width="1.4"/>
<line x1="32.70" y1="668.60" x2="32.70" y2="1040.00" stroke="#121212" stroke-width="1.4"/>
<line x1="562.10" y1="668.60" x2="562.10" y2="1040.00" stroke="#121212" stroke-width="1.4"/>
<line x1="32.70" y1="714.50" x2="562.10" y2="714.50" stroke="#121212" stroke-width="1.2"/>
<line x1="32.70" y1="849.30" x2="562.10" y2="849.30" stroke="#121212" stroke-width="1.2"/>
<line x1="32.70" y1="858.50" x2="562.10" y2="858.50" stroke="#121212" stroke-width="1.2"/>
<line x1="32.70" y1="867.40" x2="562.10" y2="867.40" stroke="#121212" stroke-width="1.2"/>
<line x1="32.70" y1="875.40" x2="562.10" y2="875.40" stroke="#121212" stroke-width="1.2"/>
<line x1="32.70" y1="883.50" x2="562.10" y2="883.50" stroke="#121212" stroke-width="1.2"/>
<line x1="32.70" y1="891.70" x2="562.10" y2="891.70" stroke="#121212" stroke-width="1.2"/>
<line x1="32.70" y1="902.30" x2="562.10" y2="902.30" stroke="#121212" stroke-width="1.2"/>
<line x1="32.70" y1="910.40" x2="562.10" y2="910.40" stroke="#121212" stroke-width="1.2"/>
<line x1="32.70" y1="919.10" x2="562.10" y2="919.10" stroke="#121212" stroke-width="1.2"/>
<line x1="32.70" y1="926.60" x2="562.10" y2="926.60" stroke="#121212" stroke-width="1.2"/>
<line x1="32.70" y1="935.40" x2="562.10" y2="935.40" stroke="#121212" stroke-width="1.2"/>
<line x1="32.70" y1="943.60" x2="562.10" y2="943.60" stroke="#121212" stroke-width="1.2"/>
<line x1="32.70" y1="951.50" x2="562.10" y2="951.50" stroke="#121212" stroke-width="1.2"/>
<line x1="32.70" y1="959.40" x2="562.10" y2="959.40" stroke="#121212" stroke-width="1.2"/>
<line x1="32.70" y1="967.50" x2="562.10" y2="967.50" stroke="#121212" stroke-width="1.2"/>
<line x1="32.70" y1="976.90" x2="562.10" y2="976.90" stroke="#121212" stroke-width="1.2"/>
<line x1="32.70" y1="985.00" x2="562.10" y2="985.00" stroke="#121212" stroke-width="1.2"/>
<line x1="32.70" y1="992.30" x2="562.10" y2="992.30" stroke="#121212" stroke-width="1.2"/>
<line x1="32.70" y1="1001.30" x2="562.10" y2="1001.30" stroke="#121212" stroke-width="1.2"/>
<line x1="32.70" y1="1009.40" x2="562.10" y2="1009.40" stroke="#121212" stroke-width="1.2"/>
<line x1="32.70" y1="1017.50" x2="562.10" y2="1017.50" stroke="#121212" stroke-width="1.2"/>
<line x1="32.70" y1="1025.50" x2="562.10" y2="1025.50" stroke="#121212" stroke-width="1.2"/>
<line x1="32.70" y1="668.60" x2="32.70" y2="1040.00" stroke="#121212" stroke-width="1.2"/>
<line x1="51.10" y1="714.50" x2="51.10" y2="1040.00" stroke="#121212" stroke-width="1.2"/>
<line x1="69.30" y1="714.50" x2="69.30" y2="1040.00" stroke="#121212" stroke-width="1.2"/>
<line x1="90.50" y1="668.60" x2="90.50" y2="1040.00" stroke="#121212" stroke-width="1.2"/>
<line x1="108.70" y1="714.50" x2="108.70" y2="1040.00" stroke="#121212" stroke-width="1.2"/>
<line x1="129.80" y1="714.50" x2="129.80" y2="1040.00" stroke="#121212" stroke-width="1.2"/>
<line x1="152.70" y1="714.50" x2="152.70" y2="1040.00" stroke="#121212" stroke-width="1.2"/>
<line x1="173.50" y1="714.50" x2="173.50" y2="1040.00" stroke="#121212" stroke-width="1.2"/>
<line x1="195.80" y1="714.50" x2="195.80" y2="1040.00" stroke="#121212" stroke-width="1.2"/>
<line x1="209.20" y1="668.60" x2="209.20" y2="1040.00" stroke="#121212" stroke-width="1.2"/>
<line x1="230.40" y1="714.50" x2="230.40" y2="1040.00" stroke="#121212" stroke-width="1.2"/>
<line x1="248.70" y1="714.50" x2="248.70" y2="1040.00" stroke="#121212" stroke-width="1.2"/>
<line x1="260.30" y1="714.50" x2="260.30" y2="1040.00" stroke="#121212" stroke-width="1.2"/>
<line x1="278.60" y1="714.50" x2="278.60" y2="1040.00" stroke="#121212" stroke-width="1.2"/>
<line x1="296.00" y1="714.50" x2="296.00" y2="1040.00" stroke="#121212" stroke-width="1.2"/>
<line x1="318.00" y1="668.60" x2="318.00" y2="1040.00" stroke="#121212" stroke-width="1.2"/>
<line x1="339.50" y1="714.50" x2="339.50" y2="1040.00" stroke="#121212" stroke-width="1.2"/>
<line x1="361.50" y1="714.50" x2="361.50" y2="1040.00" stroke="#121212" stroke-width="1.2"/>
<line x1="374.60" y1="714.50" x2="374.60" y2="1040.00" stroke="#121212" stroke-width="1.2"/>
<line x1="388.10" y1="714.50" x2="388.10" y2="1040.00" stroke="#121212" stroke-width="1.2"/>
<line x1="409.20" y1="668.60" x2="409.20" y2="1040.00" stroke="#121212" stroke-width="1.2"/>
<line x1="431.40" y1="714.50" x2="431.40" y2="1040.00" stroke="#121212" stroke-width="1.2"/>
<line x1="444.80" y1="714.50" x2="444.80" y2="1040.00" stroke="#121212" stroke-width="1.2"/>
<line x1="458.00" y1="714.50" x2="458.00" y2="1040.00" stroke="#121212" stroke-width="1.2"/>
<line x1="479.50" y1="714.50" x2="479.50" y2="1040.00" stroke="#121212" stroke-width="1.2"/>
<line x1="492.70" y1="714.50" x2="492.70" y2="1040.00" stroke="#121212" stroke-width="1.2"/>
<line x1="514.70" y1="714.50" x2="514.70" y2="1040.00" stroke="#121212" stroke-width="1.2"/>
<line x1="527.60" y1="714.50" x2="527.60" y2="1040.00" stroke="#121212" stroke-width="1.2"/>
<line x1="549.20" y1="714.50" x2="549.20" y2="1040.00" stroke="#121212" stroke-width="1.2"/>
</svg>
</body></html>
